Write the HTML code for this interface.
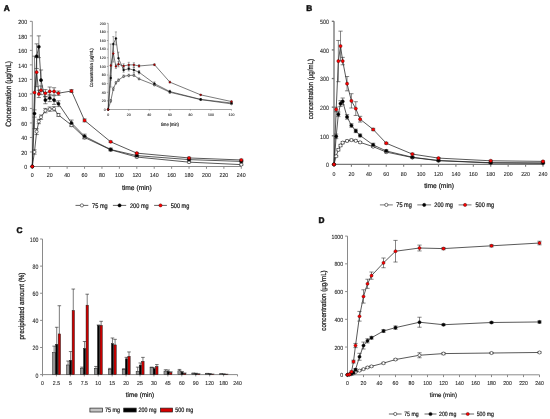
<!DOCTYPE html>
<html><head><meta charset="utf-8"><style>
html,body{margin:0;padding:0;background:#fff;}
body{width:550px;height:419px;overflow:hidden;}
svg{display:block;font-family:"Liberation Sans", sans-serif;will-change:transform;text-rendering:geometricPrecision;}
</style></head><body>
<svg width="550" height="419" viewBox="0 0 550 419">
<rect width="550" height="419" fill="#fff"/>
<text font-size="8.3" text-anchor="start" font-weight="bold" fill="#111" stroke="#111" stroke-width="0.5" transform="translate(3.8 11.3) scale(1 1.0)">A</text>
<line x1="32.3" y1="166.9" x2="32.3" y2="21.34" stroke="#8a8a8a" stroke-width="1.0"/>
<line x1="29.9" y1="166.5" x2="32.3" y2="166.5" stroke="#8a8a8a" stroke-width="1.0"/>
<text font-size="5.3" text-anchor="end" font-weight="normal" fill="#222" stroke="#222" stroke-width="0.08" transform="translate(27.1 169.19) scale(1 1.15)">0</text>
<line x1="29.9" y1="151.98" x2="32.3" y2="151.98" stroke="#8a8a8a" stroke-width="1.0"/>
<text font-size="5.3" text-anchor="end" font-weight="normal" fill="#222" stroke="#222" stroke-width="0.08" transform="translate(27.1 154.68) scale(1 1.15)">20</text>
<line x1="29.9" y1="137.47" x2="32.3" y2="137.47" stroke="#8a8a8a" stroke-width="1.0"/>
<text font-size="5.3" text-anchor="end" font-weight="normal" fill="#222" stroke="#222" stroke-width="0.08" transform="translate(27.1 140.16) scale(1 1.15)">40</text>
<line x1="29.9" y1="122.95" x2="32.3" y2="122.95" stroke="#8a8a8a" stroke-width="1.0"/>
<text font-size="5.3" text-anchor="end" font-weight="normal" fill="#222" stroke="#222" stroke-width="0.08" transform="translate(27.1 125.65) scale(1 1.15)">60</text>
<line x1="29.9" y1="108.44" x2="32.3" y2="108.44" stroke="#8a8a8a" stroke-width="1.0"/>
<text font-size="5.3" text-anchor="end" font-weight="normal" fill="#222" stroke="#222" stroke-width="0.08" transform="translate(27.1 111.13) scale(1 1.15)">80</text>
<line x1="29.9" y1="93.92" x2="32.3" y2="93.92" stroke="#8a8a8a" stroke-width="1.0"/>
<text font-size="5.3" text-anchor="end" font-weight="normal" fill="#222" stroke="#222" stroke-width="0.08" transform="translate(27.1 96.61) scale(1 1.15)">100</text>
<line x1="29.9" y1="79.4" x2="32.3" y2="79.4" stroke="#8a8a8a" stroke-width="1.0"/>
<text font-size="5.3" text-anchor="end" font-weight="normal" fill="#222" stroke="#222" stroke-width="0.08" transform="translate(27.1 82.1) scale(1 1.15)">120</text>
<line x1="29.9" y1="64.89" x2="32.3" y2="64.89" stroke="#8a8a8a" stroke-width="1.0"/>
<text font-size="5.3" text-anchor="end" font-weight="normal" fill="#222" stroke="#222" stroke-width="0.08" transform="translate(27.1 67.58) scale(1 1.15)">140</text>
<line x1="29.9" y1="50.37" x2="32.3" y2="50.37" stroke="#8a8a8a" stroke-width="1.0"/>
<text font-size="5.3" text-anchor="end" font-weight="normal" fill="#222" stroke="#222" stroke-width="0.08" transform="translate(27.1 53.07) scale(1 1.15)">160</text>
<line x1="29.9" y1="35.86" x2="32.3" y2="35.86" stroke="#8a8a8a" stroke-width="1.0"/>
<text font-size="5.3" text-anchor="end" font-weight="normal" fill="#222" stroke="#222" stroke-width="0.08" transform="translate(27.1 38.55) scale(1 1.15)">180</text>
<line x1="29.9" y1="21.34" x2="32.3" y2="21.34" stroke="#8a8a8a" stroke-width="1.0"/>
<text font-size="5.3" text-anchor="end" font-weight="normal" fill="#222" stroke="#222" stroke-width="0.08" transform="translate(27.1 24.03) scale(1 1.15)">200</text>
<line x1="32.3" y1="166.5" x2="241.29" y2="166.5" stroke="#8a8a8a" stroke-width="1.0"/>
<line x1="32.3" y1="166.5" x2="32.3" y2="168.8" stroke="#8a8a8a" stroke-width="1.0"/>
<text font-size="5.3" text-anchor="middle" font-weight="normal" fill="#222" stroke="#222" stroke-width="0.08" transform="translate(32.3 177) scale(1 1.08)">0</text>
<line x1="49.72" y1="166.5" x2="49.72" y2="168.8" stroke="#8a8a8a" stroke-width="1.0"/>
<text font-size="5.3" text-anchor="middle" font-weight="normal" fill="#222" stroke="#222" stroke-width="0.08" transform="translate(49.72 177) scale(1 1.08)">20</text>
<line x1="67.13" y1="166.5" x2="67.13" y2="168.8" stroke="#8a8a8a" stroke-width="1.0"/>
<text font-size="5.3" text-anchor="middle" font-weight="normal" fill="#222" stroke="#222" stroke-width="0.08" transform="translate(67.13 177) scale(1 1.08)">40</text>
<line x1="84.55" y1="166.5" x2="84.55" y2="168.8" stroke="#8a8a8a" stroke-width="1.0"/>
<text font-size="5.3" text-anchor="middle" font-weight="normal" fill="#222" stroke="#222" stroke-width="0.08" transform="translate(84.55 177) scale(1 1.08)">60</text>
<line x1="101.96" y1="166.5" x2="101.96" y2="168.8" stroke="#8a8a8a" stroke-width="1.0"/>
<text font-size="5.3" text-anchor="middle" font-weight="normal" fill="#222" stroke="#222" stroke-width="0.08" transform="translate(101.96 177) scale(1 1.08)">80</text>
<line x1="119.38" y1="166.5" x2="119.38" y2="168.8" stroke="#8a8a8a" stroke-width="1.0"/>
<text font-size="5.3" text-anchor="middle" font-weight="normal" fill="#222" stroke="#222" stroke-width="0.08" transform="translate(119.38 177) scale(1 1.08)">100</text>
<line x1="136.8" y1="166.5" x2="136.8" y2="168.8" stroke="#8a8a8a" stroke-width="1.0"/>
<text font-size="5.3" text-anchor="middle" font-weight="normal" fill="#222" stroke="#222" stroke-width="0.08" transform="translate(136.8 177) scale(1 1.08)">120</text>
<line x1="154.21" y1="166.5" x2="154.21" y2="168.8" stroke="#8a8a8a" stroke-width="1.0"/>
<text font-size="5.3" text-anchor="middle" font-weight="normal" fill="#222" stroke="#222" stroke-width="0.08" transform="translate(154.21 177) scale(1 1.08)">140</text>
<line x1="171.63" y1="166.5" x2="171.63" y2="168.8" stroke="#8a8a8a" stroke-width="1.0"/>
<text font-size="5.3" text-anchor="middle" font-weight="normal" fill="#222" stroke="#222" stroke-width="0.08" transform="translate(171.63 177) scale(1 1.08)">160</text>
<line x1="189.04" y1="166.5" x2="189.04" y2="168.8" stroke="#8a8a8a" stroke-width="1.0"/>
<text font-size="5.3" text-anchor="middle" font-weight="normal" fill="#222" stroke="#222" stroke-width="0.08" transform="translate(189.04 177) scale(1 1.08)">180</text>
<line x1="206.46" y1="166.5" x2="206.46" y2="168.8" stroke="#8a8a8a" stroke-width="1.0"/>
<text font-size="5.3" text-anchor="middle" font-weight="normal" fill="#222" stroke="#222" stroke-width="0.08" transform="translate(206.46 177) scale(1 1.08)">200</text>
<line x1="223.88" y1="166.5" x2="223.88" y2="168.8" stroke="#8a8a8a" stroke-width="1.0"/>
<text font-size="5.3" text-anchor="middle" font-weight="normal" fill="#222" stroke="#222" stroke-width="0.08" transform="translate(223.88 177) scale(1 1.08)">220</text>
<line x1="241.29" y1="166.5" x2="241.29" y2="168.8" stroke="#8a8a8a" stroke-width="1.0"/>
<text font-size="5.3" text-anchor="middle" font-weight="normal" fill="#222" stroke="#222" stroke-width="0.08" transform="translate(241.29 177) scale(1 1.08)">240</text>
<polyline points="32.3,166.5 34.48,151.98 36.65,131.66 38.83,121.5 41.01,117.15 45.36,110.61 49.72,109.16 54.07,108.8 58.42,114.97 71.49,125.13 84.55,137.47 110.67,149.81 136.8,157.06 189.04,162.15 241.29,164.61" fill="none" stroke="#222" stroke-width="0.75" stroke-linejoin="round"/>
<polyline points="32.3,166.5 34.48,113.52 36.65,56.18 38.83,46.74 41.01,80.13 45.36,100.09 49.72,97.98 54.07,100.09 58.42,103.72 71.49,122.95 84.55,136.31 110.67,149.52 136.8,155.61 189.04,159.6 241.29,161.42" fill="none" stroke="#222" stroke-width="0.75" stroke-linejoin="round"/>
<polyline points="32.3,166.5 34.48,92.47 36.65,72.15 38.83,93.92 41.01,90.29 45.36,93.19 49.72,91.38 54.07,91.38 58.42,93.19 71.49,91.02 84.55,120.41 110.67,141.82 136.8,153.15 189.04,157.94 241.29,159.97" fill="none" stroke="#222" stroke-width="0.75" stroke-linejoin="round"/>
<line x1="34.48" y1="149.81" x2="34.48" y2="154.16" stroke="#333" stroke-width="0.6"/>
<line x1="32.38" y1="149.81" x2="36.58" y2="149.81" stroke="#333" stroke-width="0.6"/>
<line x1="32.38" y1="154.16" x2="36.58" y2="154.16" stroke="#333" stroke-width="0.6"/>
<line x1="36.65" y1="128.76" x2="36.65" y2="134.56" stroke="#333" stroke-width="0.6"/>
<line x1="34.55" y1="128.76" x2="38.75" y2="128.76" stroke="#333" stroke-width="0.6"/>
<line x1="34.55" y1="134.56" x2="38.75" y2="134.56" stroke="#333" stroke-width="0.6"/>
<line x1="38.83" y1="119.32" x2="38.83" y2="123.68" stroke="#333" stroke-width="0.6"/>
<line x1="36.73" y1="119.32" x2="40.93" y2="119.32" stroke="#333" stroke-width="0.6"/>
<line x1="36.73" y1="123.68" x2="40.93" y2="123.68" stroke="#333" stroke-width="0.6"/>
<line x1="41.01" y1="114.97" x2="41.01" y2="119.32" stroke="#333" stroke-width="0.6"/>
<line x1="38.91" y1="114.97" x2="43.11" y2="114.97" stroke="#333" stroke-width="0.6"/>
<line x1="38.91" y1="119.32" x2="43.11" y2="119.32" stroke="#333" stroke-width="0.6"/>
<line x1="45.36" y1="108.44" x2="45.36" y2="112.79" stroke="#333" stroke-width="0.6"/>
<line x1="43.26" y1="108.44" x2="47.46" y2="108.44" stroke="#333" stroke-width="0.6"/>
<line x1="43.26" y1="112.79" x2="47.46" y2="112.79" stroke="#333" stroke-width="0.6"/>
<line x1="49.72" y1="106.98" x2="49.72" y2="111.34" stroke="#333" stroke-width="0.6"/>
<line x1="47.62" y1="106.98" x2="51.82" y2="106.98" stroke="#333" stroke-width="0.6"/>
<line x1="47.62" y1="111.34" x2="51.82" y2="111.34" stroke="#333" stroke-width="0.6"/>
<line x1="54.07" y1="106.62" x2="54.07" y2="110.98" stroke="#333" stroke-width="0.6"/>
<line x1="51.97" y1="106.62" x2="56.17" y2="106.62" stroke="#333" stroke-width="0.6"/>
<line x1="51.97" y1="110.98" x2="56.17" y2="110.98" stroke="#333" stroke-width="0.6"/>
<line x1="58.42" y1="113.52" x2="58.42" y2="116.42" stroke="#333" stroke-width="0.6"/>
<line x1="56.32" y1="113.52" x2="60.52" y2="113.52" stroke="#333" stroke-width="0.6"/>
<line x1="56.32" y1="116.42" x2="60.52" y2="116.42" stroke="#333" stroke-width="0.6"/>
<line x1="71.49" y1="123.68" x2="71.49" y2="126.58" stroke="#333" stroke-width="0.6"/>
<line x1="69.39" y1="123.68" x2="73.59" y2="123.68" stroke="#333" stroke-width="0.6"/>
<line x1="69.39" y1="126.58" x2="73.59" y2="126.58" stroke="#333" stroke-width="0.6"/>
<line x1="84.55" y1="136.02" x2="84.55" y2="138.92" stroke="#333" stroke-width="0.6"/>
<line x1="82.45" y1="136.02" x2="86.65" y2="136.02" stroke="#333" stroke-width="0.6"/>
<line x1="82.45" y1="138.92" x2="86.65" y2="138.92" stroke="#333" stroke-width="0.6"/>
<line x1="110.67" y1="149.08" x2="110.67" y2="150.53" stroke="#333" stroke-width="0.6"/>
<line x1="108.57" y1="149.08" x2="112.77" y2="149.08" stroke="#333" stroke-width="0.6"/>
<line x1="108.57" y1="150.53" x2="112.77" y2="150.53" stroke="#333" stroke-width="0.6"/>
<line x1="136.8" y1="156.34" x2="136.8" y2="157.79" stroke="#333" stroke-width="0.6"/>
<line x1="134.7" y1="156.34" x2="138.9" y2="156.34" stroke="#333" stroke-width="0.6"/>
<line x1="134.7" y1="157.79" x2="138.9" y2="157.79" stroke="#333" stroke-width="0.6"/>
<line x1="189.04" y1="161.42" x2="189.04" y2="162.87" stroke="#333" stroke-width="0.6"/>
<line x1="186.94" y1="161.42" x2="191.14" y2="161.42" stroke="#333" stroke-width="0.6"/>
<line x1="186.94" y1="162.87" x2="191.14" y2="162.87" stroke="#333" stroke-width="0.6"/>
<line x1="241.29" y1="163.89" x2="241.29" y2="165.34" stroke="#333" stroke-width="0.6"/>
<line x1="239.19" y1="163.89" x2="243.39" y2="163.89" stroke="#333" stroke-width="0.6"/>
<line x1="239.19" y1="165.34" x2="243.39" y2="165.34" stroke="#333" stroke-width="0.6"/>
<line x1="34.48" y1="109.89" x2="34.48" y2="117.15" stroke="#333" stroke-width="0.6"/>
<line x1="32.38" y1="109.89" x2="36.58" y2="109.89" stroke="#333" stroke-width="0.6"/>
<line x1="32.38" y1="117.15" x2="36.58" y2="117.15" stroke="#333" stroke-width="0.6"/>
<line x1="36.65" y1="43.84" x2="36.65" y2="68.52" stroke="#333" stroke-width="0.6"/>
<line x1="34.55" y1="43.84" x2="38.75" y2="43.84" stroke="#333" stroke-width="0.6"/>
<line x1="34.55" y1="68.52" x2="38.75" y2="68.52" stroke="#333" stroke-width="0.6"/>
<line x1="38.83" y1="35.86" x2="38.83" y2="57.63" stroke="#333" stroke-width="0.6"/>
<line x1="36.73" y1="35.86" x2="40.93" y2="35.86" stroke="#333" stroke-width="0.6"/>
<line x1="36.73" y1="57.63" x2="40.93" y2="57.63" stroke="#333" stroke-width="0.6"/>
<line x1="41.01" y1="69.97" x2="41.01" y2="90.29" stroke="#333" stroke-width="0.6"/>
<line x1="38.91" y1="69.97" x2="43.11" y2="69.97" stroke="#333" stroke-width="0.6"/>
<line x1="38.91" y1="90.29" x2="43.11" y2="90.29" stroke="#333" stroke-width="0.6"/>
<line x1="45.36" y1="96.46" x2="45.36" y2="103.72" stroke="#333" stroke-width="0.6"/>
<line x1="43.26" y1="96.46" x2="47.46" y2="96.46" stroke="#333" stroke-width="0.6"/>
<line x1="43.26" y1="103.72" x2="47.46" y2="103.72" stroke="#333" stroke-width="0.6"/>
<line x1="49.72" y1="94.36" x2="49.72" y2="101.61" stroke="#333" stroke-width="0.6"/>
<line x1="47.62" y1="94.36" x2="51.82" y2="94.36" stroke="#333" stroke-width="0.6"/>
<line x1="47.62" y1="101.61" x2="51.82" y2="101.61" stroke="#333" stroke-width="0.6"/>
<line x1="54.07" y1="95.73" x2="54.07" y2="104.44" stroke="#333" stroke-width="0.6"/>
<line x1="51.97" y1="95.73" x2="56.17" y2="95.73" stroke="#333" stroke-width="0.6"/>
<line x1="51.97" y1="104.44" x2="56.17" y2="104.44" stroke="#333" stroke-width="0.6"/>
<line x1="58.42" y1="100.82" x2="58.42" y2="106.62" stroke="#333" stroke-width="0.6"/>
<line x1="56.32" y1="100.82" x2="60.52" y2="100.82" stroke="#333" stroke-width="0.6"/>
<line x1="56.32" y1="106.62" x2="60.52" y2="106.62" stroke="#333" stroke-width="0.6"/>
<line x1="71.49" y1="120.05" x2="71.49" y2="125.86" stroke="#333" stroke-width="0.6"/>
<line x1="69.39" y1="120.05" x2="73.59" y2="120.05" stroke="#333" stroke-width="0.6"/>
<line x1="69.39" y1="125.86" x2="73.59" y2="125.86" stroke="#333" stroke-width="0.6"/>
<line x1="84.55" y1="134.13" x2="84.55" y2="138.48" stroke="#333" stroke-width="0.6"/>
<line x1="82.45" y1="134.13" x2="86.65" y2="134.13" stroke="#333" stroke-width="0.6"/>
<line x1="82.45" y1="138.48" x2="86.65" y2="138.48" stroke="#333" stroke-width="0.6"/>
<line x1="110.67" y1="148.06" x2="110.67" y2="150.97" stroke="#333" stroke-width="0.6"/>
<line x1="108.57" y1="148.06" x2="112.77" y2="148.06" stroke="#333" stroke-width="0.6"/>
<line x1="108.57" y1="150.97" x2="112.77" y2="150.97" stroke="#333" stroke-width="0.6"/>
<line x1="136.8" y1="154.89" x2="136.8" y2="156.34" stroke="#333" stroke-width="0.6"/>
<line x1="134.7" y1="154.89" x2="138.9" y2="154.89" stroke="#333" stroke-width="0.6"/>
<line x1="134.7" y1="156.34" x2="138.9" y2="156.34" stroke="#333" stroke-width="0.6"/>
<line x1="189.04" y1="158.88" x2="189.04" y2="160.33" stroke="#333" stroke-width="0.6"/>
<line x1="186.94" y1="158.88" x2="191.14" y2="158.88" stroke="#333" stroke-width="0.6"/>
<line x1="186.94" y1="160.33" x2="191.14" y2="160.33" stroke="#333" stroke-width="0.6"/>
<line x1="241.29" y1="160.69" x2="241.29" y2="162.15" stroke="#333" stroke-width="0.6"/>
<line x1="239.19" y1="160.69" x2="243.39" y2="160.69" stroke="#333" stroke-width="0.6"/>
<line x1="239.19" y1="162.15" x2="243.39" y2="162.15" stroke="#333" stroke-width="0.6"/>
<line x1="34.48" y1="56.18" x2="34.48" y2="128.76" stroke="#333" stroke-width="0.6"/>
<line x1="32.38" y1="56.18" x2="36.58" y2="56.18" stroke="#333" stroke-width="0.6"/>
<line x1="32.38" y1="128.76" x2="36.58" y2="128.76" stroke="#333" stroke-width="0.6"/>
<line x1="36.65" y1="57.63" x2="36.65" y2="86.66" stroke="#333" stroke-width="0.6"/>
<line x1="34.55" y1="57.63" x2="38.75" y2="57.63" stroke="#333" stroke-width="0.6"/>
<line x1="34.55" y1="86.66" x2="38.75" y2="86.66" stroke="#333" stroke-width="0.6"/>
<line x1="38.83" y1="90.29" x2="38.83" y2="97.55" stroke="#333" stroke-width="0.6"/>
<line x1="36.73" y1="90.29" x2="40.93" y2="90.29" stroke="#333" stroke-width="0.6"/>
<line x1="36.73" y1="97.55" x2="40.93" y2="97.55" stroke="#333" stroke-width="0.6"/>
<line x1="41.01" y1="85.94" x2="41.01" y2="94.65" stroke="#333" stroke-width="0.6"/>
<line x1="38.91" y1="85.94" x2="43.11" y2="85.94" stroke="#333" stroke-width="0.6"/>
<line x1="38.91" y1="94.65" x2="43.11" y2="94.65" stroke="#333" stroke-width="0.6"/>
<line x1="45.36" y1="89.57" x2="45.36" y2="96.82" stroke="#333" stroke-width="0.6"/>
<line x1="43.26" y1="89.57" x2="47.46" y2="89.57" stroke="#333" stroke-width="0.6"/>
<line x1="43.26" y1="96.82" x2="47.46" y2="96.82" stroke="#333" stroke-width="0.6"/>
<line x1="49.72" y1="87.02" x2="49.72" y2="95.73" stroke="#333" stroke-width="0.6"/>
<line x1="47.62" y1="87.02" x2="51.82" y2="87.02" stroke="#333" stroke-width="0.6"/>
<line x1="47.62" y1="95.73" x2="51.82" y2="95.73" stroke="#333" stroke-width="0.6"/>
<line x1="54.07" y1="87.75" x2="54.07" y2="95.01" stroke="#333" stroke-width="0.6"/>
<line x1="51.97" y1="87.75" x2="56.17" y2="87.75" stroke="#333" stroke-width="0.6"/>
<line x1="51.97" y1="95.01" x2="56.17" y2="95.01" stroke="#333" stroke-width="0.6"/>
<line x1="58.42" y1="91.02" x2="58.42" y2="95.37" stroke="#333" stroke-width="0.6"/>
<line x1="56.32" y1="91.02" x2="60.52" y2="91.02" stroke="#333" stroke-width="0.6"/>
<line x1="56.32" y1="95.37" x2="60.52" y2="95.37" stroke="#333" stroke-width="0.6"/>
<line x1="71.49" y1="89.57" x2="71.49" y2="92.47" stroke="#333" stroke-width="0.6"/>
<line x1="69.39" y1="89.57" x2="73.59" y2="89.57" stroke="#333" stroke-width="0.6"/>
<line x1="69.39" y1="92.47" x2="73.59" y2="92.47" stroke="#333" stroke-width="0.6"/>
<line x1="84.55" y1="118.96" x2="84.55" y2="121.86" stroke="#333" stroke-width="0.6"/>
<line x1="82.45" y1="118.96" x2="86.65" y2="118.96" stroke="#333" stroke-width="0.6"/>
<line x1="82.45" y1="121.86" x2="86.65" y2="121.86" stroke="#333" stroke-width="0.6"/>
<line x1="110.67" y1="141.1" x2="110.67" y2="142.55" stroke="#333" stroke-width="0.6"/>
<line x1="108.57" y1="141.1" x2="112.77" y2="141.1" stroke="#333" stroke-width="0.6"/>
<line x1="108.57" y1="142.55" x2="112.77" y2="142.55" stroke="#333" stroke-width="0.6"/>
<line x1="136.8" y1="152.42" x2="136.8" y2="153.87" stroke="#333" stroke-width="0.6"/>
<line x1="134.7" y1="152.42" x2="138.9" y2="152.42" stroke="#333" stroke-width="0.6"/>
<line x1="134.7" y1="153.87" x2="138.9" y2="153.87" stroke="#333" stroke-width="0.6"/>
<line x1="189.04" y1="157.21" x2="189.04" y2="158.66" stroke="#333" stroke-width="0.6"/>
<line x1="186.94" y1="157.21" x2="191.14" y2="157.21" stroke="#333" stroke-width="0.6"/>
<line x1="186.94" y1="158.66" x2="191.14" y2="158.66" stroke="#333" stroke-width="0.6"/>
<line x1="241.29" y1="159.24" x2="241.29" y2="160.69" stroke="#333" stroke-width="0.6"/>
<line x1="239.19" y1="159.24" x2="243.39" y2="159.24" stroke="#333" stroke-width="0.6"/>
<line x1="239.19" y1="160.69" x2="243.39" y2="160.69" stroke="#333" stroke-width="0.6"/>
<circle cx="32.3" cy="166.5" r="1.55" fill="#fff" stroke="#111" stroke-width="0.55"/>
<circle cx="34.48" cy="151.98" r="1.55" fill="#fff" stroke="#111" stroke-width="0.55"/>
<circle cx="36.65" cy="131.66" r="1.55" fill="#fff" stroke="#111" stroke-width="0.55"/>
<circle cx="38.83" cy="121.5" r="1.55" fill="#fff" stroke="#111" stroke-width="0.55"/>
<circle cx="41.01" cy="117.15" r="1.55" fill="#fff" stroke="#111" stroke-width="0.55"/>
<circle cx="45.36" cy="110.61" r="1.55" fill="#fff" stroke="#111" stroke-width="0.55"/>
<circle cx="49.72" cy="109.16" r="1.55" fill="#fff" stroke="#111" stroke-width="0.55"/>
<circle cx="54.07" cy="108.8" r="1.55" fill="#fff" stroke="#111" stroke-width="0.55"/>
<circle cx="58.42" cy="114.97" r="1.55" fill="#fff" stroke="#111" stroke-width="0.55"/>
<circle cx="71.49" cy="125.13" r="1.55" fill="#fff" stroke="#111" stroke-width="0.55"/>
<circle cx="84.55" cy="137.47" r="1.55" fill="#fff" stroke="#111" stroke-width="0.55"/>
<circle cx="110.67" cy="149.81" r="1.55" fill="#fff" stroke="#111" stroke-width="0.55"/>
<circle cx="136.8" cy="157.06" r="1.55" fill="#fff" stroke="#111" stroke-width="0.55"/>
<circle cx="189.04" cy="162.15" r="1.55" fill="#fff" stroke="#111" stroke-width="0.55"/>
<circle cx="241.29" cy="164.61" r="1.55" fill="#fff" stroke="#111" stroke-width="0.55"/>
<circle cx="32.3" cy="166.5" r="1.55" fill="#000" stroke="#111" stroke-width="0.55"/>
<circle cx="34.48" cy="113.52" r="1.55" fill="#000" stroke="#111" stroke-width="0.55"/>
<circle cx="36.65" cy="56.18" r="1.55" fill="#000" stroke="#111" stroke-width="0.55"/>
<circle cx="38.83" cy="46.74" r="1.55" fill="#000" stroke="#111" stroke-width="0.55"/>
<circle cx="41.01" cy="80.13" r="1.55" fill="#000" stroke="#111" stroke-width="0.55"/>
<circle cx="45.36" cy="100.09" r="1.55" fill="#000" stroke="#111" stroke-width="0.55"/>
<circle cx="49.72" cy="97.98" r="1.55" fill="#000" stroke="#111" stroke-width="0.55"/>
<circle cx="54.07" cy="100.09" r="1.55" fill="#000" stroke="#111" stroke-width="0.55"/>
<circle cx="58.42" cy="103.72" r="1.55" fill="#000" stroke="#111" stroke-width="0.55"/>
<circle cx="71.49" cy="122.95" r="1.55" fill="#000" stroke="#111" stroke-width="0.55"/>
<circle cx="84.55" cy="136.31" r="1.55" fill="#000" stroke="#111" stroke-width="0.55"/>
<circle cx="110.67" cy="149.52" r="1.55" fill="#000" stroke="#111" stroke-width="0.55"/>
<circle cx="136.8" cy="155.61" r="1.55" fill="#000" stroke="#111" stroke-width="0.55"/>
<circle cx="189.04" cy="159.6" r="1.55" fill="#000" stroke="#111" stroke-width="0.55"/>
<circle cx="241.29" cy="161.42" r="1.55" fill="#000" stroke="#111" stroke-width="0.55"/>
<circle cx="32.3" cy="166.5" r="1.55" fill="#ff0000" stroke="#3a0000" stroke-width="0.41250000000000003"/>
<circle cx="34.48" cy="92.47" r="1.55" fill="#ff0000" stroke="#3a0000" stroke-width="0.41250000000000003"/>
<circle cx="36.65" cy="72.15" r="1.55" fill="#ff0000" stroke="#3a0000" stroke-width="0.41250000000000003"/>
<circle cx="38.83" cy="93.92" r="1.55" fill="#ff0000" stroke="#3a0000" stroke-width="0.41250000000000003"/>
<circle cx="41.01" cy="90.29" r="1.55" fill="#ff0000" stroke="#3a0000" stroke-width="0.41250000000000003"/>
<circle cx="45.36" cy="93.19" r="1.55" fill="#ff0000" stroke="#3a0000" stroke-width="0.41250000000000003"/>
<circle cx="49.72" cy="91.38" r="1.55" fill="#ff0000" stroke="#3a0000" stroke-width="0.41250000000000003"/>
<circle cx="54.07" cy="91.38" r="1.55" fill="#ff0000" stroke="#3a0000" stroke-width="0.41250000000000003"/>
<circle cx="58.42" cy="93.19" r="1.55" fill="#ff0000" stroke="#3a0000" stroke-width="0.41250000000000003"/>
<circle cx="71.49" cy="91.02" r="1.55" fill="#ff0000" stroke="#3a0000" stroke-width="0.41250000000000003"/>
<circle cx="84.55" cy="120.41" r="1.55" fill="#ff0000" stroke="#3a0000" stroke-width="0.41250000000000003"/>
<circle cx="110.67" cy="141.82" r="1.55" fill="#ff0000" stroke="#3a0000" stroke-width="0.41250000000000003"/>
<circle cx="136.8" cy="153.15" r="1.55" fill="#ff0000" stroke="#3a0000" stroke-width="0.41250000000000003"/>
<circle cx="189.04" cy="157.94" r="1.55" fill="#ff0000" stroke="#3a0000" stroke-width="0.41250000000000003"/>
<circle cx="241.29" cy="159.97" r="1.55" fill="#ff0000" stroke="#3a0000" stroke-width="0.41250000000000003"/>
<text font-size="6.6" text-anchor="middle" font-weight="normal" fill="#222" stroke="#222" stroke-width="0.23" transform="translate(11.3 93.8) rotate(-90) scale(1 1.18)">Concentration (µg/mL)</text>
<text font-size="6.7" text-anchor="middle" font-weight="normal" fill="#222" stroke="#222" stroke-width="0.23" transform="translate(136.8 190) scale(1 1.03)">time (min)</text>
<line x1="75.5" y1="205.4" x2="88.3" y2="205.4" stroke="#222" stroke-width="0.7"/>
<circle cx="81.9" cy="205.4" r="1.6" fill="#fff" stroke="#111" stroke-width="0.55"/>
<text font-size="5.6" text-anchor="start" font-weight="normal" fill="#222" stroke="#222" stroke-width="0.2" transform="translate(92.1 207.78) scale(1 1.18)">75 mg</text>
<line x1="112.9" y1="205.4" x2="126.2" y2="205.4" stroke="#222" stroke-width="0.7"/>
<circle cx="119.55" cy="205.4" r="1.6" fill="#000" stroke="#111" stroke-width="0.55"/>
<text font-size="5.6" text-anchor="start" font-weight="normal" fill="#222" stroke="#222" stroke-width="0.2" transform="translate(130 207.78) scale(1 1.18)">200 mg</text>
<line x1="154.1" y1="205.4" x2="166.9" y2="205.4" stroke="#222" stroke-width="0.7"/>
<circle cx="160.5" cy="205.4" r="1.6" fill="#ff0000" stroke="#3a0000" stroke-width="0.41250000000000003"/>
<text font-size="5.6" text-anchor="start" font-weight="normal" fill="#222" stroke="#222" stroke-width="0.2" transform="translate(170.7 207.78) scale(1 1.18)">500 mg</text>
<line x1="108.2" y1="109.9" x2="108.2" y2="23.3" stroke="#666" stroke-width="0.6"/>
<line x1="106.9" y1="109.5" x2="108.2" y2="109.5" stroke="#666" stroke-width="0.6"/>
<text font-size="3.5" text-anchor="end" font-weight="normal" fill="#222" stroke="#222" stroke-width="0.1" transform="translate(105.7 110.76) scale(1 1.0)">0</text>
<line x1="106.9" y1="100.88" x2="108.2" y2="100.88" stroke="#666" stroke-width="0.6"/>
<text font-size="3.5" text-anchor="end" font-weight="normal" fill="#222" stroke="#222" stroke-width="0.1" transform="translate(105.7 102.14) scale(1 1.0)">20</text>
<line x1="106.9" y1="92.26" x2="108.2" y2="92.26" stroke="#666" stroke-width="0.6"/>
<text font-size="3.5" text-anchor="end" font-weight="normal" fill="#222" stroke="#222" stroke-width="0.1" transform="translate(105.7 93.52) scale(1 1.0)">40</text>
<line x1="106.9" y1="83.64" x2="108.2" y2="83.64" stroke="#666" stroke-width="0.6"/>
<text font-size="3.5" text-anchor="end" font-weight="normal" fill="#222" stroke="#222" stroke-width="0.1" transform="translate(105.7 84.9) scale(1 1.0)">60</text>
<line x1="106.9" y1="75.02" x2="108.2" y2="75.02" stroke="#666" stroke-width="0.6"/>
<text font-size="3.5" text-anchor="end" font-weight="normal" fill="#222" stroke="#222" stroke-width="0.1" transform="translate(105.7 76.28) scale(1 1.0)">80</text>
<line x1="106.9" y1="66.4" x2="108.2" y2="66.4" stroke="#666" stroke-width="0.6"/>
<text font-size="3.5" text-anchor="end" font-weight="normal" fill="#222" stroke="#222" stroke-width="0.1" transform="translate(105.7 67.66) scale(1 1.0)">100</text>
<line x1="106.9" y1="57.78" x2="108.2" y2="57.78" stroke="#666" stroke-width="0.6"/>
<text font-size="3.5" text-anchor="end" font-weight="normal" fill="#222" stroke="#222" stroke-width="0.1" transform="translate(105.7 59.04) scale(1 1.0)">120</text>
<line x1="106.9" y1="49.16" x2="108.2" y2="49.16" stroke="#666" stroke-width="0.6"/>
<text font-size="3.5" text-anchor="end" font-weight="normal" fill="#222" stroke="#222" stroke-width="0.1" transform="translate(105.7 50.42) scale(1 1.0)">140</text>
<line x1="106.9" y1="40.54" x2="108.2" y2="40.54" stroke="#666" stroke-width="0.6"/>
<text font-size="3.5" text-anchor="end" font-weight="normal" fill="#222" stroke="#222" stroke-width="0.1" transform="translate(105.7 41.8) scale(1 1.0)">160</text>
<line x1="106.9" y1="31.92" x2="108.2" y2="31.92" stroke="#666" stroke-width="0.6"/>
<text font-size="3.5" text-anchor="end" font-weight="normal" fill="#222" stroke="#222" stroke-width="0.1" transform="translate(105.7 33.18) scale(1 1.0)">180</text>
<line x1="106.9" y1="23.3" x2="108.2" y2="23.3" stroke="#666" stroke-width="0.6"/>
<text font-size="3.5" text-anchor="end" font-weight="normal" fill="#222" stroke="#222" stroke-width="0.1" transform="translate(105.7 24.56) scale(1 1.0)">200</text>
<line x1="108.2" y1="109.5" x2="231.5" y2="109.5" stroke="#666" stroke-width="0.6"/>
<line x1="108.2" y1="109.5" x2="108.2" y2="110.5" stroke="#666" stroke-width="0.6"/>
<text font-size="3.5" text-anchor="middle" font-weight="normal" fill="#222" stroke="#222" stroke-width="0.1" transform="translate(108.2 115.8) scale(1 1.0)">0</text>
<line x1="128.75" y1="109.5" x2="128.75" y2="110.5" stroke="#666" stroke-width="0.6"/>
<text font-size="3.5" text-anchor="middle" font-weight="normal" fill="#222" stroke="#222" stroke-width="0.1" transform="translate(128.75 115.8) scale(1 1.0)">20</text>
<line x1="149.3" y1="109.5" x2="149.3" y2="110.5" stroke="#666" stroke-width="0.6"/>
<text font-size="3.5" text-anchor="middle" font-weight="normal" fill="#222" stroke="#222" stroke-width="0.1" transform="translate(149.3 115.8) scale(1 1.0)">40</text>
<line x1="169.85" y1="109.5" x2="169.85" y2="110.5" stroke="#666" stroke-width="0.6"/>
<text font-size="3.5" text-anchor="middle" font-weight="normal" fill="#222" stroke="#222" stroke-width="0.1" transform="translate(169.85 115.8) scale(1 1.0)">60</text>
<line x1="190.4" y1="109.5" x2="190.4" y2="110.5" stroke="#666" stroke-width="0.6"/>
<text font-size="3.5" text-anchor="middle" font-weight="normal" fill="#222" stroke="#222" stroke-width="0.1" transform="translate(190.4 115.8) scale(1 1.0)">80</text>
<line x1="210.95" y1="109.5" x2="210.95" y2="110.5" stroke="#666" stroke-width="0.6"/>
<text font-size="3.5" text-anchor="middle" font-weight="normal" fill="#222" stroke="#222" stroke-width="0.1" transform="translate(210.95 115.8) scale(1 1.0)">100</text>
<line x1="231.5" y1="109.5" x2="231.5" y2="110.5" stroke="#666" stroke-width="0.6"/>
<text font-size="3.5" text-anchor="middle" font-weight="normal" fill="#222" stroke="#222" stroke-width="0.1" transform="translate(231.5 115.8) scale(1 1.0)">120</text>
<polyline points="108.2,109.5 110.77,100.88 113.34,88.81 115.91,82.78 118.48,80.19 123.61,76.31 128.75,75.45 133.89,75.24 139.03,78.9 154.44,84.93 169.85,92.26 200.68,99.59 231.5,103.9" fill="none" stroke="#222" stroke-width="0.6" stroke-linejoin="round"/>
<polyline points="108.2,109.5 110.77,78.04 113.34,43.99 115.91,38.39 118.48,58.21 123.61,70.06 128.75,68.81 133.89,70.06 139.03,72.22 154.44,83.64 169.85,91.57 200.68,99.41 231.5,103.03" fill="none" stroke="#222" stroke-width="0.6" stroke-linejoin="round"/>
<polyline points="108.2,109.5 110.77,65.54 113.34,53.47 115.91,66.4 118.48,64.25 123.61,65.97 128.75,64.89 133.89,64.89 139.03,65.97 154.44,64.68 169.85,82.13 200.68,94.85 231.5,101.57" fill="none" stroke="#222" stroke-width="0.6" stroke-linejoin="round"/>
<line x1="110.77" y1="99.59" x2="110.77" y2="102.17" stroke="#333" stroke-width="0.4"/>
<line x1="109.67" y1="99.59" x2="111.87" y2="99.59" stroke="#333" stroke-width="0.4"/>
<line x1="109.67" y1="102.17" x2="111.87" y2="102.17" stroke="#333" stroke-width="0.4"/>
<line x1="113.34" y1="87.09" x2="113.34" y2="90.54" stroke="#333" stroke-width="0.4"/>
<line x1="112.24" y1="87.09" x2="114.44" y2="87.09" stroke="#333" stroke-width="0.4"/>
<line x1="112.24" y1="90.54" x2="114.44" y2="90.54" stroke="#333" stroke-width="0.4"/>
<line x1="115.91" y1="81.48" x2="115.91" y2="84.07" stroke="#333" stroke-width="0.4"/>
<line x1="114.81" y1="81.48" x2="117.01" y2="81.48" stroke="#333" stroke-width="0.4"/>
<line x1="114.81" y1="84.07" x2="117.01" y2="84.07" stroke="#333" stroke-width="0.4"/>
<line x1="118.48" y1="78.9" x2="118.48" y2="81.49" stroke="#333" stroke-width="0.4"/>
<line x1="117.38" y1="78.9" x2="119.58" y2="78.9" stroke="#333" stroke-width="0.4"/>
<line x1="117.38" y1="81.49" x2="119.58" y2="81.49" stroke="#333" stroke-width="0.4"/>
<line x1="123.61" y1="75.02" x2="123.61" y2="77.61" stroke="#333" stroke-width="0.4"/>
<line x1="122.51" y1="75.02" x2="124.71" y2="75.02" stroke="#333" stroke-width="0.4"/>
<line x1="122.51" y1="77.61" x2="124.71" y2="77.61" stroke="#333" stroke-width="0.4"/>
<line x1="128.75" y1="74.16" x2="128.75" y2="76.74" stroke="#333" stroke-width="0.4"/>
<line x1="127.65" y1="74.16" x2="129.85" y2="74.16" stroke="#333" stroke-width="0.4"/>
<line x1="127.65" y1="76.74" x2="129.85" y2="76.74" stroke="#333" stroke-width="0.4"/>
<line x1="133.89" y1="73.94" x2="133.89" y2="76.53" stroke="#333" stroke-width="0.4"/>
<line x1="132.79" y1="73.94" x2="134.99" y2="73.94" stroke="#333" stroke-width="0.4"/>
<line x1="132.79" y1="76.53" x2="134.99" y2="76.53" stroke="#333" stroke-width="0.4"/>
<line x1="139.03" y1="78.04" x2="139.03" y2="79.76" stroke="#333" stroke-width="0.4"/>
<line x1="137.93" y1="78.04" x2="140.12" y2="78.04" stroke="#333" stroke-width="0.4"/>
<line x1="137.93" y1="79.76" x2="140.12" y2="79.76" stroke="#333" stroke-width="0.4"/>
<line x1="154.44" y1="84.07" x2="154.44" y2="85.79" stroke="#333" stroke-width="0.4"/>
<line x1="153.34" y1="84.07" x2="155.54" y2="84.07" stroke="#333" stroke-width="0.4"/>
<line x1="153.34" y1="85.79" x2="155.54" y2="85.79" stroke="#333" stroke-width="0.4"/>
<line x1="169.85" y1="91.4" x2="169.85" y2="93.12" stroke="#333" stroke-width="0.4"/>
<line x1="168.75" y1="91.4" x2="170.95" y2="91.4" stroke="#333" stroke-width="0.4"/>
<line x1="168.75" y1="93.12" x2="170.95" y2="93.12" stroke="#333" stroke-width="0.4"/>
<line x1="200.68" y1="99.16" x2="200.68" y2="100.02" stroke="#333" stroke-width="0.4"/>
<line x1="199.58" y1="99.16" x2="201.78" y2="99.16" stroke="#333" stroke-width="0.4"/>
<line x1="199.58" y1="100.02" x2="201.78" y2="100.02" stroke="#333" stroke-width="0.4"/>
<line x1="231.5" y1="103.47" x2="231.5" y2="104.33" stroke="#333" stroke-width="0.4"/>
<line x1="230.4" y1="103.47" x2="232.6" y2="103.47" stroke="#333" stroke-width="0.4"/>
<line x1="230.4" y1="104.33" x2="232.6" y2="104.33" stroke="#333" stroke-width="0.4"/>
<line x1="110.77" y1="75.88" x2="110.77" y2="80.19" stroke="#333" stroke-width="0.4"/>
<line x1="109.67" y1="75.88" x2="111.87" y2="75.88" stroke="#333" stroke-width="0.4"/>
<line x1="109.67" y1="80.19" x2="111.87" y2="80.19" stroke="#333" stroke-width="0.4"/>
<line x1="113.34" y1="36.66" x2="113.34" y2="51.31" stroke="#333" stroke-width="0.4"/>
<line x1="112.24" y1="36.66" x2="114.44" y2="36.66" stroke="#333" stroke-width="0.4"/>
<line x1="112.24" y1="51.31" x2="114.44" y2="51.31" stroke="#333" stroke-width="0.4"/>
<line x1="115.91" y1="31.92" x2="115.91" y2="44.85" stroke="#333" stroke-width="0.4"/>
<line x1="114.81" y1="31.92" x2="117.01" y2="31.92" stroke="#333" stroke-width="0.4"/>
<line x1="114.81" y1="44.85" x2="117.01" y2="44.85" stroke="#333" stroke-width="0.4"/>
<line x1="118.48" y1="52.18" x2="118.48" y2="64.25" stroke="#333" stroke-width="0.4"/>
<line x1="117.38" y1="52.18" x2="119.58" y2="52.18" stroke="#333" stroke-width="0.4"/>
<line x1="117.38" y1="64.25" x2="119.58" y2="64.25" stroke="#333" stroke-width="0.4"/>
<line x1="123.61" y1="67.91" x2="123.61" y2="72.22" stroke="#333" stroke-width="0.4"/>
<line x1="122.51" y1="67.91" x2="124.71" y2="67.91" stroke="#333" stroke-width="0.4"/>
<line x1="122.51" y1="72.22" x2="124.71" y2="72.22" stroke="#333" stroke-width="0.4"/>
<line x1="128.75" y1="66.66" x2="128.75" y2="70.97" stroke="#333" stroke-width="0.4"/>
<line x1="127.65" y1="66.66" x2="129.85" y2="66.66" stroke="#333" stroke-width="0.4"/>
<line x1="127.65" y1="70.97" x2="129.85" y2="70.97" stroke="#333" stroke-width="0.4"/>
<line x1="133.89" y1="67.48" x2="133.89" y2="72.65" stroke="#333" stroke-width="0.4"/>
<line x1="132.79" y1="67.48" x2="134.99" y2="67.48" stroke="#333" stroke-width="0.4"/>
<line x1="132.79" y1="72.65" x2="134.99" y2="72.65" stroke="#333" stroke-width="0.4"/>
<line x1="139.03" y1="70.49" x2="139.03" y2="73.94" stroke="#333" stroke-width="0.4"/>
<line x1="137.93" y1="70.49" x2="140.12" y2="70.49" stroke="#333" stroke-width="0.4"/>
<line x1="137.93" y1="73.94" x2="140.12" y2="73.94" stroke="#333" stroke-width="0.4"/>
<line x1="154.44" y1="81.92" x2="154.44" y2="85.36" stroke="#333" stroke-width="0.4"/>
<line x1="153.34" y1="81.92" x2="155.54" y2="81.92" stroke="#333" stroke-width="0.4"/>
<line x1="153.34" y1="85.36" x2="155.54" y2="85.36" stroke="#333" stroke-width="0.4"/>
<line x1="169.85" y1="90.28" x2="169.85" y2="92.86" stroke="#333" stroke-width="0.4"/>
<line x1="168.75" y1="90.28" x2="170.95" y2="90.28" stroke="#333" stroke-width="0.4"/>
<line x1="168.75" y1="92.86" x2="170.95" y2="92.86" stroke="#333" stroke-width="0.4"/>
<line x1="200.68" y1="98.55" x2="200.68" y2="100.28" stroke="#333" stroke-width="0.4"/>
<line x1="199.58" y1="98.55" x2="201.78" y2="98.55" stroke="#333" stroke-width="0.4"/>
<line x1="199.58" y1="100.28" x2="201.78" y2="100.28" stroke="#333" stroke-width="0.4"/>
<line x1="231.5" y1="102.6" x2="231.5" y2="103.47" stroke="#333" stroke-width="0.4"/>
<line x1="230.4" y1="102.6" x2="232.6" y2="102.6" stroke="#333" stroke-width="0.4"/>
<line x1="230.4" y1="103.47" x2="232.6" y2="103.47" stroke="#333" stroke-width="0.4"/>
<line x1="110.77" y1="43.99" x2="110.77" y2="87.09" stroke="#333" stroke-width="0.4"/>
<line x1="109.67" y1="43.99" x2="111.87" y2="43.99" stroke="#333" stroke-width="0.4"/>
<line x1="109.67" y1="87.09" x2="111.87" y2="87.09" stroke="#333" stroke-width="0.4"/>
<line x1="113.34" y1="44.85" x2="113.34" y2="62.09" stroke="#333" stroke-width="0.4"/>
<line x1="112.24" y1="44.85" x2="114.44" y2="44.85" stroke="#333" stroke-width="0.4"/>
<line x1="112.24" y1="62.09" x2="114.44" y2="62.09" stroke="#333" stroke-width="0.4"/>
<line x1="115.91" y1="64.25" x2="115.91" y2="68.56" stroke="#333" stroke-width="0.4"/>
<line x1="114.81" y1="64.25" x2="117.01" y2="64.25" stroke="#333" stroke-width="0.4"/>
<line x1="114.81" y1="68.56" x2="117.01" y2="68.56" stroke="#333" stroke-width="0.4"/>
<line x1="118.48" y1="61.66" x2="118.48" y2="66.83" stroke="#333" stroke-width="0.4"/>
<line x1="117.38" y1="61.66" x2="119.58" y2="61.66" stroke="#333" stroke-width="0.4"/>
<line x1="117.38" y1="66.83" x2="119.58" y2="66.83" stroke="#333" stroke-width="0.4"/>
<line x1="123.61" y1="63.81" x2="123.61" y2="68.12" stroke="#333" stroke-width="0.4"/>
<line x1="122.51" y1="63.81" x2="124.71" y2="63.81" stroke="#333" stroke-width="0.4"/>
<line x1="122.51" y1="68.12" x2="124.71" y2="68.12" stroke="#333" stroke-width="0.4"/>
<line x1="128.75" y1="62.31" x2="128.75" y2="67.48" stroke="#333" stroke-width="0.4"/>
<line x1="127.65" y1="62.31" x2="129.85" y2="62.31" stroke="#333" stroke-width="0.4"/>
<line x1="127.65" y1="67.48" x2="129.85" y2="67.48" stroke="#333" stroke-width="0.4"/>
<line x1="133.89" y1="62.74" x2="133.89" y2="67.05" stroke="#333" stroke-width="0.4"/>
<line x1="132.79" y1="62.74" x2="134.99" y2="62.74" stroke="#333" stroke-width="0.4"/>
<line x1="132.79" y1="67.05" x2="134.99" y2="67.05" stroke="#333" stroke-width="0.4"/>
<line x1="139.03" y1="64.68" x2="139.03" y2="67.26" stroke="#333" stroke-width="0.4"/>
<line x1="137.93" y1="64.68" x2="140.12" y2="64.68" stroke="#333" stroke-width="0.4"/>
<line x1="137.93" y1="67.26" x2="140.12" y2="67.26" stroke="#333" stroke-width="0.4"/>
<line x1="154.44" y1="63.81" x2="154.44" y2="65.54" stroke="#333" stroke-width="0.4"/>
<line x1="153.34" y1="63.81" x2="155.54" y2="63.81" stroke="#333" stroke-width="0.4"/>
<line x1="153.34" y1="65.54" x2="155.54" y2="65.54" stroke="#333" stroke-width="0.4"/>
<line x1="169.85" y1="81.27" x2="169.85" y2="82.99" stroke="#333" stroke-width="0.4"/>
<line x1="168.75" y1="81.27" x2="170.95" y2="81.27" stroke="#333" stroke-width="0.4"/>
<line x1="168.75" y1="82.99" x2="170.95" y2="82.99" stroke="#333" stroke-width="0.4"/>
<line x1="200.68" y1="94.42" x2="200.68" y2="95.28" stroke="#333" stroke-width="0.4"/>
<line x1="199.58" y1="94.42" x2="201.78" y2="94.42" stroke="#333" stroke-width="0.4"/>
<line x1="199.58" y1="95.28" x2="201.78" y2="95.28" stroke="#333" stroke-width="0.4"/>
<line x1="231.5" y1="101.14" x2="231.5" y2="102" stroke="#333" stroke-width="0.4"/>
<line x1="230.4" y1="101.14" x2="232.6" y2="101.14" stroke="#333" stroke-width="0.4"/>
<line x1="230.4" y1="102" x2="232.6" y2="102" stroke="#333" stroke-width="0.4"/>
<circle cx="108.2" cy="109.5" r="0.95" fill="#bbb" stroke="#111" stroke-width="0.45"/>
<circle cx="110.77" cy="100.88" r="0.95" fill="#bbb" stroke="#111" stroke-width="0.45"/>
<circle cx="113.34" cy="88.81" r="0.95" fill="#bbb" stroke="#111" stroke-width="0.45"/>
<circle cx="115.91" cy="82.78" r="0.95" fill="#bbb" stroke="#111" stroke-width="0.45"/>
<circle cx="118.48" cy="80.19" r="0.95" fill="#bbb" stroke="#111" stroke-width="0.45"/>
<circle cx="123.61" cy="76.31" r="0.95" fill="#bbb" stroke="#111" stroke-width="0.45"/>
<circle cx="128.75" cy="75.45" r="0.95" fill="#bbb" stroke="#111" stroke-width="0.45"/>
<circle cx="133.89" cy="75.24" r="0.95" fill="#bbb" stroke="#111" stroke-width="0.45"/>
<circle cx="139.03" cy="78.9" r="0.95" fill="#bbb" stroke="#111" stroke-width="0.45"/>
<circle cx="154.44" cy="84.93" r="0.95" fill="#bbb" stroke="#111" stroke-width="0.45"/>
<circle cx="169.85" cy="92.26" r="0.95" fill="#bbb" stroke="#111" stroke-width="0.45"/>
<circle cx="200.68" cy="99.59" r="0.95" fill="#bbb" stroke="#111" stroke-width="0.45"/>
<circle cx="231.5" cy="103.9" r="0.95" fill="#bbb" stroke="#111" stroke-width="0.45"/>
<circle cx="108.2" cy="109.5" r="0.95" fill="#000" stroke="#111" stroke-width="0.45"/>
<circle cx="110.77" cy="78.04" r="0.95" fill="#000" stroke="#111" stroke-width="0.45"/>
<circle cx="113.34" cy="43.99" r="0.95" fill="#000" stroke="#111" stroke-width="0.45"/>
<circle cx="115.91" cy="38.39" r="0.95" fill="#000" stroke="#111" stroke-width="0.45"/>
<circle cx="118.48" cy="58.21" r="0.95" fill="#000" stroke="#111" stroke-width="0.45"/>
<circle cx="123.61" cy="70.06" r="0.95" fill="#000" stroke="#111" stroke-width="0.45"/>
<circle cx="128.75" cy="68.81" r="0.95" fill="#000" stroke="#111" stroke-width="0.45"/>
<circle cx="133.89" cy="70.06" r="0.95" fill="#000" stroke="#111" stroke-width="0.45"/>
<circle cx="139.03" cy="72.22" r="0.95" fill="#000" stroke="#111" stroke-width="0.45"/>
<circle cx="154.44" cy="83.64" r="0.95" fill="#000" stroke="#111" stroke-width="0.45"/>
<circle cx="169.85" cy="91.57" r="0.95" fill="#000" stroke="#111" stroke-width="0.45"/>
<circle cx="200.68" cy="99.41" r="0.95" fill="#000" stroke="#111" stroke-width="0.45"/>
<circle cx="231.5" cy="103.03" r="0.95" fill="#000" stroke="#111" stroke-width="0.45"/>
<circle cx="108.2" cy="109.5" r="0.95" fill="#c00000" stroke="#3a0000" stroke-width="0.3375"/>
<circle cx="110.77" cy="65.54" r="0.95" fill="#c00000" stroke="#3a0000" stroke-width="0.3375"/>
<circle cx="113.34" cy="53.47" r="0.95" fill="#c00000" stroke="#3a0000" stroke-width="0.3375"/>
<circle cx="115.91" cy="66.4" r="0.95" fill="#c00000" stroke="#3a0000" stroke-width="0.3375"/>
<circle cx="118.48" cy="64.25" r="0.95" fill="#c00000" stroke="#3a0000" stroke-width="0.3375"/>
<circle cx="123.61" cy="65.97" r="0.95" fill="#c00000" stroke="#3a0000" stroke-width="0.3375"/>
<circle cx="128.75" cy="64.89" r="0.95" fill="#c00000" stroke="#3a0000" stroke-width="0.3375"/>
<circle cx="133.89" cy="64.89" r="0.95" fill="#c00000" stroke="#3a0000" stroke-width="0.3375"/>
<circle cx="139.03" cy="65.97" r="0.95" fill="#c00000" stroke="#3a0000" stroke-width="0.3375"/>
<circle cx="154.44" cy="64.68" r="0.95" fill="#c00000" stroke="#3a0000" stroke-width="0.3375"/>
<circle cx="169.85" cy="82.13" r="0.95" fill="#c00000" stroke="#3a0000" stroke-width="0.3375"/>
<circle cx="200.68" cy="94.85" r="0.95" fill="#c00000" stroke="#3a0000" stroke-width="0.3375"/>
<circle cx="231.5" cy="101.57" r="0.95" fill="#c00000" stroke="#3a0000" stroke-width="0.3375"/>
<text font-size="3.9" text-anchor="middle" font-weight="normal" fill="#222" stroke="#222" stroke-width="0.14" transform="translate(93.4 67.8) rotate(-90) scale(1 1.18)">Concentration (µg/mL)</text>
<text font-size="4.0" text-anchor="middle" font-weight="normal" fill="#222" stroke="#222" stroke-width="0.14" transform="translate(170 126) scale(1 1.18)">time (min)</text>
<text font-size="8.3" text-anchor="start" font-weight="bold" fill="#111" stroke="#111" stroke-width="0.5" transform="translate(306.3 11.2) scale(1 1.0)">B</text>
<line x1="334" y1="164.8" x2="334" y2="21.3" stroke="#707070" stroke-width="1.3"/>
<line x1="331.8" y1="164.4" x2="334" y2="164.4" stroke="#707070" stroke-width="1.3"/>
<text font-size="5.3" text-anchor="end" font-weight="normal" fill="#222" stroke="#222" stroke-width="0.08" transform="translate(328.9 167.15) scale(1 1.18)">0</text>
<line x1="331.8" y1="135.78" x2="334" y2="135.78" stroke="#707070" stroke-width="1.3"/>
<text font-size="5.3" text-anchor="end" font-weight="normal" fill="#222" stroke="#222" stroke-width="0.08" transform="translate(328.9 138.53) scale(1 1.18)">100</text>
<line x1="331.8" y1="107.16" x2="334" y2="107.16" stroke="#707070" stroke-width="1.3"/>
<text font-size="5.3" text-anchor="end" font-weight="normal" fill="#222" stroke="#222" stroke-width="0.08" transform="translate(328.9 109.91) scale(1 1.18)">200</text>
<line x1="331.8" y1="78.54" x2="334" y2="78.54" stroke="#707070" stroke-width="1.3"/>
<text font-size="5.3" text-anchor="end" font-weight="normal" fill="#222" stroke="#222" stroke-width="0.08" transform="translate(328.9 81.29) scale(1 1.18)">300</text>
<line x1="331.8" y1="49.92" x2="334" y2="49.92" stroke="#707070" stroke-width="1.3"/>
<text font-size="5.3" text-anchor="end" font-weight="normal" fill="#222" stroke="#222" stroke-width="0.08" transform="translate(328.9 52.67) scale(1 1.18)">400</text>
<line x1="331.8" y1="21.3" x2="334" y2="21.3" stroke="#707070" stroke-width="1.3"/>
<text font-size="5.3" text-anchor="end" font-weight="normal" fill="#222" stroke="#222" stroke-width="0.08" transform="translate(328.9 24.05) scale(1 1.18)">500</text>
<line x1="334" y1="164.4" x2="542.99" y2="164.4" stroke="#7a7a7a" stroke-width="1.1"/>
<line x1="334" y1="164.4" x2="334" y2="166.7" stroke="#7a7a7a" stroke-width="1.1"/>
<text font-size="5.3" text-anchor="middle" font-weight="normal" fill="#222" stroke="#222" stroke-width="0.08" transform="translate(334 175.5) scale(1 1.1)">0</text>
<line x1="351.42" y1="164.4" x2="351.42" y2="166.7" stroke="#7a7a7a" stroke-width="1.1"/>
<text font-size="5.3" text-anchor="middle" font-weight="normal" fill="#222" stroke="#222" stroke-width="0.08" transform="translate(351.42 175.5) scale(1 1.1)">20</text>
<line x1="368.83" y1="164.4" x2="368.83" y2="166.7" stroke="#7a7a7a" stroke-width="1.1"/>
<text font-size="5.3" text-anchor="middle" font-weight="normal" fill="#222" stroke="#222" stroke-width="0.08" transform="translate(368.83 175.5) scale(1 1.1)">40</text>
<line x1="386.25" y1="164.4" x2="386.25" y2="166.7" stroke="#7a7a7a" stroke-width="1.1"/>
<text font-size="5.3" text-anchor="middle" font-weight="normal" fill="#222" stroke="#222" stroke-width="0.08" transform="translate(386.25 175.5) scale(1 1.1)">60</text>
<line x1="403.66" y1="164.4" x2="403.66" y2="166.7" stroke="#7a7a7a" stroke-width="1.1"/>
<text font-size="5.3" text-anchor="middle" font-weight="normal" fill="#222" stroke="#222" stroke-width="0.08" transform="translate(403.66 175.5) scale(1 1.1)">80</text>
<line x1="421.08" y1="164.4" x2="421.08" y2="166.7" stroke="#7a7a7a" stroke-width="1.1"/>
<text font-size="5.3" text-anchor="middle" font-weight="normal" fill="#222" stroke="#222" stroke-width="0.08" transform="translate(421.08 175.5) scale(1 1.1)">100</text>
<line x1="438.5" y1="164.4" x2="438.5" y2="166.7" stroke="#7a7a7a" stroke-width="1.1"/>
<text font-size="5.3" text-anchor="middle" font-weight="normal" fill="#222" stroke="#222" stroke-width="0.08" transform="translate(438.5 175.5) scale(1 1.1)">120</text>
<line x1="455.91" y1="164.4" x2="455.91" y2="166.7" stroke="#7a7a7a" stroke-width="1.1"/>
<text font-size="5.3" text-anchor="middle" font-weight="normal" fill="#222" stroke="#222" stroke-width="0.08" transform="translate(455.91 175.5) scale(1 1.1)">140</text>
<line x1="473.33" y1="164.4" x2="473.33" y2="166.7" stroke="#7a7a7a" stroke-width="1.1"/>
<text font-size="5.3" text-anchor="middle" font-weight="normal" fill="#222" stroke="#222" stroke-width="0.08" transform="translate(473.33 175.5) scale(1 1.1)">160</text>
<line x1="490.74" y1="164.4" x2="490.74" y2="166.7" stroke="#7a7a7a" stroke-width="1.1"/>
<text font-size="5.3" text-anchor="middle" font-weight="normal" fill="#222" stroke="#222" stroke-width="0.08" transform="translate(490.74 175.5) scale(1 1.1)">180</text>
<line x1="508.16" y1="164.4" x2="508.16" y2="166.7" stroke="#7a7a7a" stroke-width="1.1"/>
<text font-size="5.3" text-anchor="middle" font-weight="normal" fill="#222" stroke="#222" stroke-width="0.08" transform="translate(508.16 175.5) scale(1 1.1)">200</text>
<line x1="525.58" y1="164.4" x2="525.58" y2="166.7" stroke="#7a7a7a" stroke-width="1.1"/>
<text font-size="5.3" text-anchor="middle" font-weight="normal" fill="#222" stroke="#222" stroke-width="0.08" transform="translate(525.58 175.5) scale(1 1.1)">220</text>
<line x1="542.99" y1="164.4" x2="542.99" y2="166.7" stroke="#7a7a7a" stroke-width="1.1"/>
<text font-size="5.3" text-anchor="middle" font-weight="normal" fill="#222" stroke="#222" stroke-width="0.08" transform="translate(542.99 175.5) scale(1 1.1)">240</text>
<polyline points="334,164.4 336.18,156.19 338.35,149.8 340.53,145.51 342.71,142.65 347.06,140.93 351.42,140.07 355.77,140.79 360.12,142.36 373.19,146.66 386.25,152.09 412.37,157.53 438.5,160.68 490.74,162.97 542.99,163.26" fill="none" stroke="#222" stroke-width="0.75" stroke-linejoin="round"/>
<polyline points="334,164.4 336.18,136.35 338.35,114.31 340.53,103.55 342.71,101.44 347.06,116.89 351.42,125.48 355.77,130.91 360.12,135.49 373.19,144.94 386.25,150.95 412.37,157.25 438.5,160.51 490.74,162.68 542.99,162.97" fill="none" stroke="#222" stroke-width="0.75" stroke-linejoin="round"/>
<polyline points="334,164.4 336.18,109.45 338.35,61.08 340.53,46.03 342.71,61.08 347.06,83.69 351.42,100.86 355.77,108.59 360.12,119.18 373.19,129.48 386.25,143.22 412.37,154.1 438.5,158.1 490.74,160.79 542.99,161.39" fill="none" stroke="#222" stroke-width="0.75" stroke-linejoin="round"/>
<line x1="336.18" y1="155.33" x2="336.18" y2="157.04" stroke="#333" stroke-width="0.6"/>
<line x1="334.08" y1="155.33" x2="338.28" y2="155.33" stroke="#333" stroke-width="0.6"/>
<line x1="334.08" y1="157.04" x2="338.28" y2="157.04" stroke="#333" stroke-width="0.6"/>
<line x1="338.35" y1="148.66" x2="338.35" y2="150.95" stroke="#333" stroke-width="0.6"/>
<line x1="336.25" y1="148.66" x2="340.45" y2="148.66" stroke="#333" stroke-width="0.6"/>
<line x1="336.25" y1="150.95" x2="340.45" y2="150.95" stroke="#333" stroke-width="0.6"/>
<line x1="340.53" y1="144.37" x2="340.53" y2="146.66" stroke="#333" stroke-width="0.6"/>
<line x1="338.43" y1="144.37" x2="342.63" y2="144.37" stroke="#333" stroke-width="0.6"/>
<line x1="338.43" y1="146.66" x2="342.63" y2="146.66" stroke="#333" stroke-width="0.6"/>
<line x1="342.71" y1="141.5" x2="342.71" y2="143.79" stroke="#333" stroke-width="0.6"/>
<line x1="340.61" y1="141.5" x2="344.81" y2="141.5" stroke="#333" stroke-width="0.6"/>
<line x1="340.61" y1="143.79" x2="344.81" y2="143.79" stroke="#333" stroke-width="0.6"/>
<line x1="347.06" y1="140.07" x2="347.06" y2="141.79" stroke="#333" stroke-width="0.6"/>
<line x1="344.96" y1="140.07" x2="349.16" y2="140.07" stroke="#333" stroke-width="0.6"/>
<line x1="344.96" y1="141.79" x2="349.16" y2="141.79" stroke="#333" stroke-width="0.6"/>
<line x1="351.42" y1="139.21" x2="351.42" y2="140.93" stroke="#333" stroke-width="0.6"/>
<line x1="349.32" y1="139.21" x2="353.52" y2="139.21" stroke="#333" stroke-width="0.6"/>
<line x1="349.32" y1="140.93" x2="353.52" y2="140.93" stroke="#333" stroke-width="0.6"/>
<line x1="355.77" y1="139.93" x2="355.77" y2="141.65" stroke="#333" stroke-width="0.6"/>
<line x1="353.67" y1="139.93" x2="357.87" y2="139.93" stroke="#333" stroke-width="0.6"/>
<line x1="353.67" y1="141.65" x2="357.87" y2="141.65" stroke="#333" stroke-width="0.6"/>
<line x1="360.12" y1="141.5" x2="360.12" y2="143.22" stroke="#333" stroke-width="0.6"/>
<line x1="358.02" y1="141.5" x2="362.22" y2="141.5" stroke="#333" stroke-width="0.6"/>
<line x1="358.02" y1="143.22" x2="362.22" y2="143.22" stroke="#333" stroke-width="0.6"/>
<line x1="373.19" y1="145.8" x2="373.19" y2="147.51" stroke="#333" stroke-width="0.6"/>
<line x1="371.09" y1="145.8" x2="375.29" y2="145.8" stroke="#333" stroke-width="0.6"/>
<line x1="371.09" y1="147.51" x2="375.29" y2="147.51" stroke="#333" stroke-width="0.6"/>
<line x1="386.25" y1="151.23" x2="386.25" y2="152.95" stroke="#333" stroke-width="0.6"/>
<line x1="384.15" y1="151.23" x2="388.35" y2="151.23" stroke="#333" stroke-width="0.6"/>
<line x1="384.15" y1="152.95" x2="388.35" y2="152.95" stroke="#333" stroke-width="0.6"/>
<line x1="412.37" y1="156.96" x2="412.37" y2="158.1" stroke="#333" stroke-width="0.6"/>
<line x1="410.27" y1="156.96" x2="414.47" y2="156.96" stroke="#333" stroke-width="0.6"/>
<line x1="410.27" y1="158.1" x2="414.47" y2="158.1" stroke="#333" stroke-width="0.6"/>
<line x1="438.5" y1="160.39" x2="438.5" y2="160.97" stroke="#333" stroke-width="0.6"/>
<line x1="436.4" y1="160.39" x2="440.6" y2="160.39" stroke="#333" stroke-width="0.6"/>
<line x1="436.4" y1="160.97" x2="440.6" y2="160.97" stroke="#333" stroke-width="0.6"/>
<line x1="490.74" y1="162.68" x2="490.74" y2="163.26" stroke="#333" stroke-width="0.6"/>
<line x1="488.64" y1="162.68" x2="492.84" y2="162.68" stroke="#333" stroke-width="0.6"/>
<line x1="488.64" y1="163.26" x2="492.84" y2="163.26" stroke="#333" stroke-width="0.6"/>
<line x1="542.99" y1="162.97" x2="542.99" y2="163.54" stroke="#333" stroke-width="0.6"/>
<line x1="540.89" y1="162.97" x2="545.09" y2="162.97" stroke="#333" stroke-width="0.6"/>
<line x1="540.89" y1="163.54" x2="545.09" y2="163.54" stroke="#333" stroke-width="0.6"/>
<line x1="336.18" y1="134.06" x2="336.18" y2="138.64" stroke="#333" stroke-width="0.6"/>
<line x1="334.08" y1="134.06" x2="338.28" y2="134.06" stroke="#333" stroke-width="0.6"/>
<line x1="334.08" y1="138.64" x2="338.28" y2="138.64" stroke="#333" stroke-width="0.6"/>
<line x1="338.35" y1="112.03" x2="338.35" y2="116.6" stroke="#333" stroke-width="0.6"/>
<line x1="336.25" y1="112.03" x2="340.45" y2="112.03" stroke="#333" stroke-width="0.6"/>
<line x1="336.25" y1="116.6" x2="340.45" y2="116.6" stroke="#333" stroke-width="0.6"/>
<line x1="340.53" y1="100.69" x2="340.53" y2="106.42" stroke="#333" stroke-width="0.6"/>
<line x1="338.43" y1="100.69" x2="342.63" y2="100.69" stroke="#333" stroke-width="0.6"/>
<line x1="338.43" y1="106.42" x2="342.63" y2="106.42" stroke="#333" stroke-width="0.6"/>
<line x1="342.71" y1="98" x2="342.71" y2="104.87" stroke="#333" stroke-width="0.6"/>
<line x1="340.61" y1="98" x2="344.81" y2="98" stroke="#333" stroke-width="0.6"/>
<line x1="340.61" y1="104.87" x2="344.81" y2="104.87" stroke="#333" stroke-width="0.6"/>
<line x1="347.06" y1="114.6" x2="347.06" y2="119.18" stroke="#333" stroke-width="0.6"/>
<line x1="344.96" y1="114.6" x2="349.16" y2="114.6" stroke="#333" stroke-width="0.6"/>
<line x1="344.96" y1="119.18" x2="349.16" y2="119.18" stroke="#333" stroke-width="0.6"/>
<line x1="351.42" y1="123.76" x2="351.42" y2="127.19" stroke="#333" stroke-width="0.6"/>
<line x1="349.32" y1="123.76" x2="353.52" y2="123.76" stroke="#333" stroke-width="0.6"/>
<line x1="349.32" y1="127.19" x2="353.52" y2="127.19" stroke="#333" stroke-width="0.6"/>
<line x1="355.77" y1="129.2" x2="355.77" y2="132.63" stroke="#333" stroke-width="0.6"/>
<line x1="353.67" y1="129.2" x2="357.87" y2="129.2" stroke="#333" stroke-width="0.6"/>
<line x1="353.67" y1="132.63" x2="357.87" y2="132.63" stroke="#333" stroke-width="0.6"/>
<line x1="360.12" y1="134.06" x2="360.12" y2="136.92" stroke="#333" stroke-width="0.6"/>
<line x1="358.02" y1="134.06" x2="362.22" y2="134.06" stroke="#333" stroke-width="0.6"/>
<line x1="358.02" y1="136.92" x2="362.22" y2="136.92" stroke="#333" stroke-width="0.6"/>
<line x1="373.19" y1="143.22" x2="373.19" y2="146.66" stroke="#333" stroke-width="0.6"/>
<line x1="371.09" y1="143.22" x2="375.29" y2="143.22" stroke="#333" stroke-width="0.6"/>
<line x1="371.09" y1="146.66" x2="375.29" y2="146.66" stroke="#333" stroke-width="0.6"/>
<line x1="386.25" y1="149.8" x2="386.25" y2="152.09" stroke="#333" stroke-width="0.6"/>
<line x1="384.15" y1="149.8" x2="388.35" y2="149.8" stroke="#333" stroke-width="0.6"/>
<line x1="384.15" y1="152.09" x2="388.35" y2="152.09" stroke="#333" stroke-width="0.6"/>
<line x1="412.37" y1="156.67" x2="412.37" y2="157.82" stroke="#333" stroke-width="0.6"/>
<line x1="410.27" y1="156.67" x2="414.47" y2="156.67" stroke="#333" stroke-width="0.6"/>
<line x1="410.27" y1="157.82" x2="414.47" y2="157.82" stroke="#333" stroke-width="0.6"/>
<line x1="438.5" y1="159.94" x2="438.5" y2="161.08" stroke="#333" stroke-width="0.6"/>
<line x1="436.4" y1="159.94" x2="440.6" y2="159.94" stroke="#333" stroke-width="0.6"/>
<line x1="436.4" y1="161.08" x2="440.6" y2="161.08" stroke="#333" stroke-width="0.6"/>
<line x1="490.74" y1="162.4" x2="490.74" y2="162.97" stroke="#333" stroke-width="0.6"/>
<line x1="488.64" y1="162.4" x2="492.84" y2="162.4" stroke="#333" stroke-width="0.6"/>
<line x1="488.64" y1="162.97" x2="492.84" y2="162.97" stroke="#333" stroke-width="0.6"/>
<line x1="542.99" y1="162.68" x2="542.99" y2="163.26" stroke="#333" stroke-width="0.6"/>
<line x1="540.89" y1="162.68" x2="545.09" y2="162.68" stroke="#333" stroke-width="0.6"/>
<line x1="540.89" y1="163.26" x2="545.09" y2="163.26" stroke="#333" stroke-width="0.6"/>
<line x1="336.18" y1="107.16" x2="336.18" y2="111.74" stroke="#333" stroke-width="0.6"/>
<line x1="334.08" y1="107.16" x2="338.28" y2="107.16" stroke="#333" stroke-width="0.6"/>
<line x1="334.08" y1="111.74" x2="338.28" y2="111.74" stroke="#333" stroke-width="0.6"/>
<line x1="338.35" y1="40.48" x2="338.35" y2="81.69" stroke="#333" stroke-width="0.6"/>
<line x1="336.25" y1="40.48" x2="340.45" y2="40.48" stroke="#333" stroke-width="0.6"/>
<line x1="336.25" y1="81.69" x2="340.45" y2="81.69" stroke="#333" stroke-width="0.6"/>
<line x1="340.53" y1="31.15" x2="340.53" y2="60.91" stroke="#333" stroke-width="0.6"/>
<line x1="338.43" y1="31.15" x2="342.63" y2="31.15" stroke="#333" stroke-width="0.6"/>
<line x1="338.43" y1="60.91" x2="342.63" y2="60.91" stroke="#333" stroke-width="0.6"/>
<line x1="342.71" y1="57.36" x2="342.71" y2="64.8" stroke="#333" stroke-width="0.6"/>
<line x1="340.61" y1="57.36" x2="344.81" y2="57.36" stroke="#333" stroke-width="0.6"/>
<line x1="340.61" y1="64.8" x2="344.81" y2="64.8" stroke="#333" stroke-width="0.6"/>
<line x1="347.06" y1="76.54" x2="347.06" y2="90.85" stroke="#333" stroke-width="0.6"/>
<line x1="344.96" y1="76.54" x2="349.16" y2="76.54" stroke="#333" stroke-width="0.6"/>
<line x1="344.96" y1="90.85" x2="349.16" y2="90.85" stroke="#333" stroke-width="0.6"/>
<line x1="351.42" y1="93.71" x2="351.42" y2="108.02" stroke="#333" stroke-width="0.6"/>
<line x1="349.32" y1="93.71" x2="353.52" y2="93.71" stroke="#333" stroke-width="0.6"/>
<line x1="349.32" y1="108.02" x2="353.52" y2="108.02" stroke="#333" stroke-width="0.6"/>
<line x1="355.77" y1="101.72" x2="355.77" y2="115.46" stroke="#333" stroke-width="0.6"/>
<line x1="353.67" y1="101.72" x2="357.87" y2="101.72" stroke="#333" stroke-width="0.6"/>
<line x1="353.67" y1="115.46" x2="357.87" y2="115.46" stroke="#333" stroke-width="0.6"/>
<line x1="360.12" y1="116.32" x2="360.12" y2="122.04" stroke="#333" stroke-width="0.6"/>
<line x1="358.02" y1="116.32" x2="362.22" y2="116.32" stroke="#333" stroke-width="0.6"/>
<line x1="358.02" y1="122.04" x2="362.22" y2="122.04" stroke="#333" stroke-width="0.6"/>
<line x1="373.19" y1="128.34" x2="373.19" y2="130.63" stroke="#333" stroke-width="0.6"/>
<line x1="371.09" y1="128.34" x2="375.29" y2="128.34" stroke="#333" stroke-width="0.6"/>
<line x1="371.09" y1="130.63" x2="375.29" y2="130.63" stroke="#333" stroke-width="0.6"/>
<line x1="386.25" y1="142.36" x2="386.25" y2="144.08" stroke="#333" stroke-width="0.6"/>
<line x1="384.15" y1="142.36" x2="388.35" y2="142.36" stroke="#333" stroke-width="0.6"/>
<line x1="384.15" y1="144.08" x2="388.35" y2="144.08" stroke="#333" stroke-width="0.6"/>
<line x1="412.37" y1="153.24" x2="412.37" y2="154.96" stroke="#333" stroke-width="0.6"/>
<line x1="410.27" y1="153.24" x2="414.47" y2="153.24" stroke="#333" stroke-width="0.6"/>
<line x1="410.27" y1="154.96" x2="414.47" y2="154.96" stroke="#333" stroke-width="0.6"/>
<line x1="438.5" y1="157.53" x2="438.5" y2="158.68" stroke="#333" stroke-width="0.6"/>
<line x1="436.4" y1="157.53" x2="440.6" y2="157.53" stroke="#333" stroke-width="0.6"/>
<line x1="436.4" y1="158.68" x2="440.6" y2="158.68" stroke="#333" stroke-width="0.6"/>
<line x1="490.74" y1="160.22" x2="490.74" y2="161.37" stroke="#333" stroke-width="0.6"/>
<line x1="488.64" y1="160.22" x2="492.84" y2="160.22" stroke="#333" stroke-width="0.6"/>
<line x1="488.64" y1="161.37" x2="492.84" y2="161.37" stroke="#333" stroke-width="0.6"/>
<line x1="542.99" y1="160.82" x2="542.99" y2="161.97" stroke="#333" stroke-width="0.6"/>
<line x1="540.89" y1="160.82" x2="545.09" y2="160.82" stroke="#333" stroke-width="0.6"/>
<line x1="540.89" y1="161.97" x2="545.09" y2="161.97" stroke="#333" stroke-width="0.6"/>
<circle cx="334" cy="164.4" r="1.6" fill="#fff" stroke="#111" stroke-width="0.55"/>
<circle cx="336.18" cy="156.19" r="1.6" fill="#fff" stroke="#111" stroke-width="0.55"/>
<circle cx="338.35" cy="149.8" r="1.6" fill="#fff" stroke="#111" stroke-width="0.55"/>
<circle cx="340.53" cy="145.51" r="1.6" fill="#fff" stroke="#111" stroke-width="0.55"/>
<circle cx="342.71" cy="142.65" r="1.6" fill="#fff" stroke="#111" stroke-width="0.55"/>
<circle cx="347.06" cy="140.93" r="1.6" fill="#fff" stroke="#111" stroke-width="0.55"/>
<circle cx="351.42" cy="140.07" r="1.6" fill="#fff" stroke="#111" stroke-width="0.55"/>
<circle cx="355.77" cy="140.79" r="1.6" fill="#fff" stroke="#111" stroke-width="0.55"/>
<circle cx="360.12" cy="142.36" r="1.6" fill="#fff" stroke="#111" stroke-width="0.55"/>
<circle cx="373.19" cy="146.66" r="1.6" fill="#fff" stroke="#111" stroke-width="0.55"/>
<circle cx="386.25" cy="152.09" r="1.6" fill="#fff" stroke="#111" stroke-width="0.55"/>
<circle cx="412.37" cy="157.53" r="1.6" fill="#fff" stroke="#111" stroke-width="0.55"/>
<circle cx="438.5" cy="160.68" r="1.6" fill="#fff" stroke="#111" stroke-width="0.55"/>
<circle cx="490.74" cy="162.97" r="1.6" fill="#fff" stroke="#111" stroke-width="0.55"/>
<circle cx="542.99" cy="163.26" r="1.6" fill="#fff" stroke="#111" stroke-width="0.55"/>
<circle cx="334" cy="164.4" r="1.6" fill="#000" stroke="#111" stroke-width="0.55"/>
<circle cx="336.18" cy="136.35" r="1.6" fill="#000" stroke="#111" stroke-width="0.55"/>
<circle cx="338.35" cy="114.31" r="1.6" fill="#000" stroke="#111" stroke-width="0.55"/>
<circle cx="340.53" cy="103.55" r="1.6" fill="#000" stroke="#111" stroke-width="0.55"/>
<circle cx="342.71" cy="101.44" r="1.6" fill="#000" stroke="#111" stroke-width="0.55"/>
<circle cx="347.06" cy="116.89" r="1.6" fill="#000" stroke="#111" stroke-width="0.55"/>
<circle cx="351.42" cy="125.48" r="1.6" fill="#000" stroke="#111" stroke-width="0.55"/>
<circle cx="355.77" cy="130.91" r="1.6" fill="#000" stroke="#111" stroke-width="0.55"/>
<circle cx="360.12" cy="135.49" r="1.6" fill="#000" stroke="#111" stroke-width="0.55"/>
<circle cx="373.19" cy="144.94" r="1.6" fill="#000" stroke="#111" stroke-width="0.55"/>
<circle cx="386.25" cy="150.95" r="1.6" fill="#000" stroke="#111" stroke-width="0.55"/>
<circle cx="412.37" cy="157.25" r="1.6" fill="#000" stroke="#111" stroke-width="0.55"/>
<circle cx="438.5" cy="160.51" r="1.6" fill="#000" stroke="#111" stroke-width="0.55"/>
<circle cx="490.74" cy="162.68" r="1.6" fill="#000" stroke="#111" stroke-width="0.55"/>
<circle cx="542.99" cy="162.97" r="1.6" fill="#000" stroke="#111" stroke-width="0.55"/>
<circle cx="334" cy="164.4" r="1.6" fill="#ff0000" stroke="#3a0000" stroke-width="0.41250000000000003"/>
<circle cx="336.18" cy="109.45" r="1.6" fill="#ff0000" stroke="#3a0000" stroke-width="0.41250000000000003"/>
<circle cx="338.35" cy="61.08" r="1.6" fill="#ff0000" stroke="#3a0000" stroke-width="0.41250000000000003"/>
<circle cx="340.53" cy="46.03" r="1.6" fill="#ff0000" stroke="#3a0000" stroke-width="0.41250000000000003"/>
<circle cx="342.71" cy="61.08" r="1.6" fill="#ff0000" stroke="#3a0000" stroke-width="0.41250000000000003"/>
<circle cx="347.06" cy="83.69" r="1.6" fill="#ff0000" stroke="#3a0000" stroke-width="0.41250000000000003"/>
<circle cx="351.42" cy="100.86" r="1.6" fill="#ff0000" stroke="#3a0000" stroke-width="0.41250000000000003"/>
<circle cx="355.77" cy="108.59" r="1.6" fill="#ff0000" stroke="#3a0000" stroke-width="0.41250000000000003"/>
<circle cx="360.12" cy="119.18" r="1.6" fill="#ff0000" stroke="#3a0000" stroke-width="0.41250000000000003"/>
<circle cx="373.19" cy="129.48" r="1.6" fill="#ff0000" stroke="#3a0000" stroke-width="0.41250000000000003"/>
<circle cx="386.25" cy="143.22" r="1.6" fill="#ff0000" stroke="#3a0000" stroke-width="0.41250000000000003"/>
<circle cx="412.37" cy="154.1" r="1.6" fill="#ff0000" stroke="#3a0000" stroke-width="0.41250000000000003"/>
<circle cx="438.5" cy="158.1" r="1.6" fill="#ff0000" stroke="#3a0000" stroke-width="0.41250000000000003"/>
<circle cx="490.74" cy="160.79" r="1.6" fill="#ff0000" stroke="#3a0000" stroke-width="0.41250000000000003"/>
<circle cx="542.99" cy="161.39" r="1.6" fill="#ff0000" stroke="#3a0000" stroke-width="0.41250000000000003"/>
<text font-size="6.2" text-anchor="middle" font-weight="normal" fill="#222" stroke="#222" stroke-width="0.22" transform="translate(313.4 89) rotate(-90) scale(1 1.18)">concentration (µg/mL)</text>
<text font-size="6.7" text-anchor="middle" font-weight="normal" fill="#222" stroke="#222" stroke-width="0.23" transform="translate(439 188.2) scale(1 1.03)">time (min)</text>
<line x1="379.9" y1="204.9" x2="392.8" y2="204.9" stroke="#666" stroke-width="0.9"/>
<circle cx="386.35" cy="204.9" r="1.6" fill="#fff" stroke="#111" stroke-width="0.55"/>
<text font-size="5.6" text-anchor="start" font-weight="normal" fill="#222" stroke="#222" stroke-width="0.2" transform="translate(396.3 207.28) scale(1 1.18)">75 mg</text>
<line x1="417.3" y1="204.9" x2="431.1" y2="204.9" stroke="#666" stroke-width="0.9"/>
<circle cx="424.2" cy="204.9" r="1.6" fill="#000" stroke="#111" stroke-width="0.55"/>
<text font-size="5.6" text-anchor="start" font-weight="normal" fill="#222" stroke="#222" stroke-width="0.2" transform="translate(434.3 207.28) scale(1 1.18)">200 mg</text>
<line x1="458.6" y1="204.9" x2="471.5" y2="204.9" stroke="#666" stroke-width="0.9"/>
<circle cx="465.05" cy="204.9" r="1.6" fill="#ff0000" stroke="#3a0000" stroke-width="0.41250000000000003"/>
<text font-size="5.6" text-anchor="start" font-weight="normal" fill="#222" stroke="#222" stroke-width="0.2" transform="translate(475.5 207.28) scale(1 1.18)">500 mg</text>
<text font-size="8.3" text-anchor="start" font-weight="bold" fill="#111" stroke="#111" stroke-width="0.5" transform="translate(16.6 232.6) scale(1 1.0)">C</text>
<line x1="42.5" y1="375" x2="42.5" y2="239" stroke="#8a8a8a" stroke-width="1.0"/>
<line x1="40.1" y1="374.6" x2="42.5" y2="374.6" stroke="#8a8a8a" stroke-width="1.0"/>
<text font-size="5.2" text-anchor="end" font-weight="normal" fill="#222" stroke="#222" stroke-width="0.08" transform="translate(38.4 377.54) scale(1 1.25)">0</text>
<line x1="40.1" y1="347.48" x2="42.5" y2="347.48" stroke="#8a8a8a" stroke-width="1.0"/>
<text font-size="5.2" text-anchor="end" font-weight="normal" fill="#222" stroke="#222" stroke-width="0.08" transform="translate(38.4 350.42) scale(1 1.25)">20</text>
<line x1="40.1" y1="320.36" x2="42.5" y2="320.36" stroke="#8a8a8a" stroke-width="1.0"/>
<text font-size="5.2" text-anchor="end" font-weight="normal" fill="#222" stroke="#222" stroke-width="0.08" transform="translate(38.4 323.3) scale(1 1.25)">40</text>
<line x1="40.1" y1="293.24" x2="42.5" y2="293.24" stroke="#8a8a8a" stroke-width="1.0"/>
<text font-size="5.2" text-anchor="end" font-weight="normal" fill="#222" stroke="#222" stroke-width="0.08" transform="translate(38.4 296.18) scale(1 1.25)">60</text>
<line x1="40.1" y1="266.12" x2="42.5" y2="266.12" stroke="#8a8a8a" stroke-width="1.0"/>
<text font-size="5.2" text-anchor="end" font-weight="normal" fill="#222" stroke="#222" stroke-width="0.08" transform="translate(38.4 269.06) scale(1 1.25)">80</text>
<line x1="40.1" y1="239" x2="42.5" y2="239" stroke="#8a8a8a" stroke-width="1.0"/>
<text font-size="5.2" text-anchor="end" font-weight="normal" fill="#222" stroke="#222" stroke-width="0.08" transform="translate(38.4 241.94) scale(1 1.25)">100</text>
<line x1="42.1" y1="374.6" x2="237.52" y2="374.6" stroke="#8a8a8a" stroke-width="1.0"/>
<line x1="42.5" y1="374.6" x2="42.5" y2="376.4" stroke="#8a8a8a" stroke-width="1.0"/>
<text font-size="5.2" text-anchor="middle" font-weight="normal" fill="#222" stroke="#222" stroke-width="0.08" transform="translate(42.5 384.5) scale(1 1.1)">0</text>
<line x1="56.43" y1="374.6" x2="56.43" y2="376.4" stroke="#8a8a8a" stroke-width="1.0"/>
<text font-size="5.2" text-anchor="middle" font-weight="normal" fill="#222" stroke="#222" stroke-width="0.08" transform="translate(56.43 384.5) scale(1 1.1)">2.5</text>
<line x1="70.36" y1="374.6" x2="70.36" y2="376.4" stroke="#8a8a8a" stroke-width="1.0"/>
<text font-size="5.2" text-anchor="middle" font-weight="normal" fill="#222" stroke="#222" stroke-width="0.08" transform="translate(70.36 384.5) scale(1 1.1)">5</text>
<line x1="84.29" y1="374.6" x2="84.29" y2="376.4" stroke="#8a8a8a" stroke-width="1.0"/>
<text font-size="5.2" text-anchor="middle" font-weight="normal" fill="#222" stroke="#222" stroke-width="0.08" transform="translate(84.29 384.5) scale(1 1.1)">7.5</text>
<line x1="98.22" y1="374.6" x2="98.22" y2="376.4" stroke="#8a8a8a" stroke-width="1.0"/>
<text font-size="5.2" text-anchor="middle" font-weight="normal" fill="#222" stroke="#222" stroke-width="0.08" transform="translate(98.22 384.5) scale(1 1.1)">10</text>
<line x1="112.15" y1="374.6" x2="112.15" y2="376.4" stroke="#8a8a8a" stroke-width="1.0"/>
<text font-size="5.2" text-anchor="middle" font-weight="normal" fill="#222" stroke="#222" stroke-width="0.08" transform="translate(112.15 384.5) scale(1 1.1)">15</text>
<line x1="126.08" y1="374.6" x2="126.08" y2="376.4" stroke="#8a8a8a" stroke-width="1.0"/>
<text font-size="5.2" text-anchor="middle" font-weight="normal" fill="#222" stroke="#222" stroke-width="0.08" transform="translate(126.08 384.5) scale(1 1.1)">20</text>
<line x1="140.01" y1="374.6" x2="140.01" y2="376.4" stroke="#8a8a8a" stroke-width="1.0"/>
<text font-size="5.2" text-anchor="middle" font-weight="normal" fill="#222" stroke="#222" stroke-width="0.08" transform="translate(140.01 384.5) scale(1 1.1)">25</text>
<line x1="153.94" y1="374.6" x2="153.94" y2="376.4" stroke="#8a8a8a" stroke-width="1.0"/>
<text font-size="5.2" text-anchor="middle" font-weight="normal" fill="#222" stroke="#222" stroke-width="0.08" transform="translate(153.94 384.5) scale(1 1.1)">30</text>
<line x1="167.87" y1="374.6" x2="167.87" y2="376.4" stroke="#8a8a8a" stroke-width="1.0"/>
<text font-size="5.2" text-anchor="middle" font-weight="normal" fill="#222" stroke="#222" stroke-width="0.08" transform="translate(167.87 384.5) scale(1 1.1)">45</text>
<line x1="181.8" y1="374.6" x2="181.8" y2="376.4" stroke="#8a8a8a" stroke-width="1.0"/>
<text font-size="5.2" text-anchor="middle" font-weight="normal" fill="#222" stroke="#222" stroke-width="0.08" transform="translate(181.8 384.5) scale(1 1.1)">60</text>
<line x1="195.73" y1="374.6" x2="195.73" y2="376.4" stroke="#8a8a8a" stroke-width="1.0"/>
<text font-size="5.2" text-anchor="middle" font-weight="normal" fill="#222" stroke="#222" stroke-width="0.08" transform="translate(195.73 384.5) scale(1 1.1)">90</text>
<line x1="209.66" y1="374.6" x2="209.66" y2="376.4" stroke="#8a8a8a" stroke-width="1.0"/>
<text font-size="5.2" text-anchor="middle" font-weight="normal" fill="#222" stroke="#222" stroke-width="0.08" transform="translate(209.66 384.5) scale(1 1.1)">120</text>
<line x1="223.59" y1="374.6" x2="223.59" y2="376.4" stroke="#8a8a8a" stroke-width="1.0"/>
<text font-size="5.2" text-anchor="middle" font-weight="normal" fill="#222" stroke="#222" stroke-width="0.08" transform="translate(223.59 384.5) scale(1 1.1)">180</text>
<line x1="237.52" y1="374.6" x2="237.52" y2="376.4" stroke="#8a8a8a" stroke-width="1.0"/>
<text font-size="5.2" text-anchor="middle" font-weight="normal" fill="#222" stroke="#222" stroke-width="0.08" transform="translate(237.52 384.5) scale(1 1.1)">240</text>
<rect x="52.53" y="352.63" width="3.2" height="21.97" fill="#959595" stroke="#111" stroke-width="0.45"/>
<line x1="54.13" y1="352.63" x2="54.13" y2="346.12" stroke="#222" stroke-width="0.6"/>
<line x1="52.33" y1="346.12" x2="55.93" y2="346.12" stroke="#222" stroke-width="0.6"/>
<rect x="55.73" y="344.23" width="2" height="30.37" fill="#000" stroke="#111" stroke-width="0.45"/>
<line x1="56.73" y1="344.23" x2="56.73" y2="327.28" stroke="#222" stroke-width="0.6"/>
<line x1="54.93" y1="327.28" x2="58.53" y2="327.28" stroke="#222" stroke-width="0.6"/>
<rect x="58.18" y="333.92" width="2.35" height="40.68" fill="#c80000" stroke="#111" stroke-width="0.45"/>
<line x1="59.35" y1="333.92" x2="59.35" y2="305.72" stroke="#222" stroke-width="0.6"/>
<line x1="57.55" y1="305.72" x2="61.15" y2="305.72" stroke="#222" stroke-width="0.6"/>
<rect x="66.46" y="364.97" width="3.2" height="9.63" fill="#959595" stroke="#111" stroke-width="0.45"/>
<line x1="68.06" y1="364.97" x2="68.06" y2="361.04" stroke="#222" stroke-width="0.6"/>
<line x1="66.26" y1="361.04" x2="69.86" y2="361.04" stroke="#222" stroke-width="0.6"/>
<rect x="69.66" y="360.23" width="2" height="14.37" fill="#000" stroke="#111" stroke-width="0.45"/>
<line x1="70.66" y1="360.23" x2="70.66" y2="351.55" stroke="#222" stroke-width="0.6"/>
<line x1="68.86" y1="351.55" x2="72.46" y2="351.55" stroke="#222" stroke-width="0.6"/>
<rect x="72.11" y="310.46" width="2.35" height="64.14" fill="#c80000" stroke="#111" stroke-width="0.45"/>
<line x1="73.28" y1="310.46" x2="73.28" y2="289.04" stroke="#222" stroke-width="0.6"/>
<line x1="71.48" y1="289.04" x2="75.08" y2="289.04" stroke="#222" stroke-width="0.6"/>
<rect x="80.39" y="368.5" width="3.2" height="6.1" fill="#959595" stroke="#111" stroke-width="0.45"/>
<line x1="81.99" y1="368.5" x2="81.99" y2="367.14" stroke="#222" stroke-width="0.6"/>
<line x1="80.19" y1="367.14" x2="83.79" y2="367.14" stroke="#222" stroke-width="0.6"/>
<rect x="83.59" y="348.43" width="2" height="26.17" fill="#000" stroke="#111" stroke-width="0.45"/>
<line x1="84.59" y1="348.43" x2="84.59" y2="341.51" stroke="#222" stroke-width="0.6"/>
<line x1="82.79" y1="341.51" x2="86.39" y2="341.51" stroke="#222" stroke-width="0.6"/>
<rect x="86.04" y="305.17" width="2.35" height="69.43" fill="#c80000" stroke="#111" stroke-width="0.45"/>
<line x1="87.21" y1="305.17" x2="87.21" y2="294.19" stroke="#222" stroke-width="0.6"/>
<line x1="85.41" y1="294.19" x2="89.01" y2="294.19" stroke="#222" stroke-width="0.6"/>
<rect x="94.32" y="368.23" width="3.2" height="6.37" fill="#959595" stroke="#111" stroke-width="0.45"/>
<line x1="95.92" y1="368.23" x2="95.92" y2="366.46" stroke="#222" stroke-width="0.6"/>
<line x1="94.12" y1="366.46" x2="97.72" y2="366.46" stroke="#222" stroke-width="0.6"/>
<rect x="97.52" y="325.38" width="2" height="49.22" fill="#000" stroke="#111" stroke-width="0.45"/>
<line x1="98.52" y1="325.38" x2="98.52" y2="324.97" stroke="#222" stroke-width="0.6"/>
<line x1="96.72" y1="324.97" x2="100.32" y2="324.97" stroke="#222" stroke-width="0.6"/>
<rect x="99.97" y="325.38" width="2.35" height="49.22" fill="#c80000" stroke="#111" stroke-width="0.45"/>
<line x1="101.14" y1="325.38" x2="101.14" y2="321.31" stroke="#222" stroke-width="0.6"/>
<line x1="99.34" y1="321.31" x2="102.94" y2="321.31" stroke="#222" stroke-width="0.6"/>
<rect x="108.25" y="369.18" width="3.2" height="5.42" fill="#959595" stroke="#111" stroke-width="0.45"/>
<line x1="109.85" y1="369.18" x2="109.85" y2="368.36" stroke="#222" stroke-width="0.6"/>
<line x1="108.05" y1="368.36" x2="111.65" y2="368.36" stroke="#222" stroke-width="0.6"/>
<rect x="111.45" y="343.55" width="2" height="31.05" fill="#000" stroke="#111" stroke-width="0.45"/>
<line x1="112.45" y1="343.55" x2="112.45" y2="337.99" stroke="#222" stroke-width="0.6"/>
<line x1="110.65" y1="337.99" x2="114.25" y2="337.99" stroke="#222" stroke-width="0.6"/>
<rect x="113.9" y="344.9" width="2.35" height="29.7" fill="#c80000" stroke="#111" stroke-width="0.45"/>
<line x1="115.08" y1="344.9" x2="115.08" y2="339.34" stroke="#222" stroke-width="0.6"/>
<line x1="113.28" y1="339.34" x2="116.88" y2="339.34" stroke="#222" stroke-width="0.6"/>
<rect x="122.18" y="369.18" width="3.2" height="5.42" fill="#959595" stroke="#111" stroke-width="0.45"/>
<line x1="123.78" y1="369.18" x2="123.78" y2="368.77" stroke="#222" stroke-width="0.6"/>
<line x1="121.98" y1="368.77" x2="125.58" y2="368.77" stroke="#222" stroke-width="0.6"/>
<rect x="125.38" y="358.87" width="2" height="15.73" fill="#000" stroke="#111" stroke-width="0.45"/>
<line x1="126.38" y1="358.87" x2="126.38" y2="357.38" stroke="#222" stroke-width="0.6"/>
<line x1="124.58" y1="357.38" x2="128.18" y2="357.38" stroke="#222" stroke-width="0.6"/>
<rect x="127.83" y="356.29" width="2.35" height="18.31" fill="#c80000" stroke="#111" stroke-width="0.45"/>
<line x1="129" y1="356.29" x2="129" y2="351.95" stroke="#222" stroke-width="0.6"/>
<line x1="127.2" y1="351.95" x2="130.81" y2="351.95" stroke="#222" stroke-width="0.6"/>
<rect x="136.11" y="371.35" width="3.2" height="3.25" fill="#959595" stroke="#111" stroke-width="0.45"/>
<line x1="137.71" y1="371.35" x2="137.71" y2="367.14" stroke="#222" stroke-width="0.6"/>
<line x1="135.91" y1="367.14" x2="139.51" y2="367.14" stroke="#222" stroke-width="0.6"/>
<rect x="139.31" y="365.11" width="2" height="9.49" fill="#000" stroke="#111" stroke-width="0.45"/>
<line x1="140.31" y1="365.11" x2="140.31" y2="362.94" stroke="#222" stroke-width="0.6"/>
<line x1="138.51" y1="362.94" x2="142.11" y2="362.94" stroke="#222" stroke-width="0.6"/>
<rect x="141.76" y="361.31" width="2.35" height="13.29" fill="#c80000" stroke="#111" stroke-width="0.45"/>
<line x1="142.94" y1="361.31" x2="142.94" y2="357.38" stroke="#222" stroke-width="0.6"/>
<line x1="141.13" y1="357.38" x2="144.74" y2="357.38" stroke="#222" stroke-width="0.6"/>
<rect x="150.04" y="367.41" width="3.2" height="7.19" fill="#959595" stroke="#111" stroke-width="0.45"/>
<line x1="151.64" y1="367.41" x2="151.64" y2="367.14" stroke="#222" stroke-width="0.6"/>
<line x1="149.84" y1="367.14" x2="153.44" y2="367.14" stroke="#222" stroke-width="0.6"/>
<rect x="153.24" y="368.77" width="2" height="5.83" fill="#000" stroke="#111" stroke-width="0.45"/>
<line x1="154.24" y1="368.77" x2="154.24" y2="367.82" stroke="#222" stroke-width="0.6"/>
<line x1="152.44" y1="367.82" x2="156.04" y2="367.82" stroke="#222" stroke-width="0.6"/>
<rect x="155.69" y="366.46" width="2.35" height="8.14" fill="#c80000" stroke="#111" stroke-width="0.45"/>
<line x1="156.87" y1="366.46" x2="156.87" y2="364.57" stroke="#222" stroke-width="0.6"/>
<line x1="155.06" y1="364.57" x2="158.67" y2="364.57" stroke="#222" stroke-width="0.6"/>
<rect x="163.97" y="371.07" width="3.2" height="3.53" fill="#959595" stroke="#111" stroke-width="0.45"/>
<line x1="165.57" y1="371.07" x2="165.57" y2="369.72" stroke="#222" stroke-width="0.6"/>
<line x1="163.77" y1="369.72" x2="167.37" y2="369.72" stroke="#222" stroke-width="0.6"/>
<rect x="167.17" y="371.35" width="2" height="3.25" fill="#000" stroke="#111" stroke-width="0.45"/>
<line x1="168.17" y1="371.35" x2="168.17" y2="369.99" stroke="#222" stroke-width="0.6"/>
<line x1="166.37" y1="369.99" x2="169.97" y2="369.99" stroke="#222" stroke-width="0.6"/>
<rect x="169.62" y="372.43" width="2.35" height="2.17" fill="#c80000" stroke="#111" stroke-width="0.45"/>
<line x1="170.8" y1="372.43" x2="170.8" y2="371.75" stroke="#222" stroke-width="0.6"/>
<line x1="169" y1="371.75" x2="172.6" y2="371.75" stroke="#222" stroke-width="0.6"/>
<rect x="177.9" y="370.8" width="3.2" height="3.8" fill="#959595" stroke="#111" stroke-width="0.45"/>
<line x1="179.5" y1="370.8" x2="179.5" y2="369.45" stroke="#222" stroke-width="0.6"/>
<line x1="177.7" y1="369.45" x2="181.3" y2="369.45" stroke="#222" stroke-width="0.6"/>
<rect x="181.1" y="372.16" width="2" height="2.44" fill="#000" stroke="#111" stroke-width="0.45"/>
<line x1="182.1" y1="372.16" x2="182.1" y2="371.48" stroke="#222" stroke-width="0.6"/>
<line x1="180.3" y1="371.48" x2="183.9" y2="371.48" stroke="#222" stroke-width="0.6"/>
<rect x="183.55" y="373.38" width="2.35" height="1.22" fill="#c80000" stroke="#111" stroke-width="0.45"/>
<line x1="184.73" y1="373.38" x2="184.73" y2="372.97" stroke="#222" stroke-width="0.6"/>
<line x1="182.93" y1="372.97" x2="186.53" y2="372.97" stroke="#222" stroke-width="0.6"/>
<rect x="191.83" y="373.38" width="3.2" height="1.22" fill="#959595" stroke="#111" stroke-width="0.45"/>
<line x1="193.43" y1="373.38" x2="193.43" y2="372.97" stroke="#222" stroke-width="0.6"/>
<line x1="191.63" y1="372.97" x2="195.23" y2="372.97" stroke="#222" stroke-width="0.6"/>
<rect x="195.03" y="373.65" width="2" height="0.95" fill="#000" stroke="#111" stroke-width="0.45"/>
<line x1="196.03" y1="373.65" x2="196.03" y2="373.24" stroke="#222" stroke-width="0.6"/>
<line x1="194.23" y1="373.24" x2="197.83" y2="373.24" stroke="#222" stroke-width="0.6"/>
<rect x="197.48" y="374.06" width="2.35" height="0.54" fill="#c80000" stroke="#111" stroke-width="0.45"/>
<line x1="198.66" y1="374.06" x2="198.66" y2="373.79" stroke="#222" stroke-width="0.6"/>
<line x1="196.85" y1="373.79" x2="200.46" y2="373.79" stroke="#222" stroke-width="0.6"/>
<rect x="205.76" y="373.65" width="3.2" height="0.95" fill="#959595" stroke="#111" stroke-width="0.45"/>
<line x1="207.36" y1="373.65" x2="207.36" y2="373.38" stroke="#222" stroke-width="0.6"/>
<line x1="205.56" y1="373.38" x2="209.16" y2="373.38" stroke="#222" stroke-width="0.6"/>
<rect x="208.96" y="373.92" width="2" height="0.68" fill="#000" stroke="#111" stroke-width="0.45"/>
<line x1="209.96" y1="373.92" x2="209.96" y2="373.65" stroke="#222" stroke-width="0.6"/>
<line x1="208.16" y1="373.65" x2="211.76" y2="373.65" stroke="#222" stroke-width="0.6"/>
<rect x="211.41" y="374.19" width="2.35" height="0.41" fill="#c80000" stroke="#111" stroke-width="0.45"/>
<line x1="212.59" y1="374.19" x2="212.59" y2="374.06" stroke="#222" stroke-width="0.6"/>
<line x1="210.78" y1="374.06" x2="214.39" y2="374.06" stroke="#222" stroke-width="0.6"/>
<rect x="219.69" y="373.92" width="3.2" height="0.68" fill="#959595" stroke="#111" stroke-width="0.45"/>
<line x1="221.29" y1="373.92" x2="221.29" y2="373.65" stroke="#222" stroke-width="0.6"/>
<line x1="219.49" y1="373.65" x2="223.09" y2="373.65" stroke="#222" stroke-width="0.6"/>
<rect x="222.89" y="374.06" width="2" height="0.54" fill="#000" stroke="#111" stroke-width="0.45"/>
<line x1="223.89" y1="374.06" x2="223.89" y2="373.92" stroke="#222" stroke-width="0.6"/>
<line x1="222.09" y1="373.92" x2="225.69" y2="373.92" stroke="#222" stroke-width="0.6"/>
<rect x="225.34" y="374.33" width="2.35" height="0.27" fill="#c80000" stroke="#111" stroke-width="0.45"/>
<line x1="226.52" y1="374.33" x2="226.52" y2="374.19" stroke="#222" stroke-width="0.6"/>
<line x1="224.72" y1="374.19" x2="228.32" y2="374.19" stroke="#222" stroke-width="0.6"/>
<text font-size="6.3" text-anchor="middle" font-weight="normal" fill="#222" stroke="#222" stroke-width="0.22" transform="translate(23.6 306) rotate(-90) scale(1 1.18)">precipitated amount (%)</text>
<text font-size="6.4" text-anchor="middle" font-weight="normal" fill="#222" stroke="#222" stroke-width="0.22" transform="translate(140 396.8) scale(1 1.03)">time (min)</text>
<rect x="89.9" y="408.1" width="12.5" height="3.9" fill="#c4c4c4" stroke="#222" stroke-width="0.7"/>
<text font-size="5.4" text-anchor="start" font-weight="normal" fill="#222" stroke="#222" stroke-width="0.19" transform="translate(105.1 412) scale(1 1.18)">75 mg</text>
<rect x="123.7" y="408.1" width="12.5" height="3.9" fill="#000" stroke="#222" stroke-width="0.7"/>
<text font-size="5.4" text-anchor="start" font-weight="normal" fill="#222" stroke="#222" stroke-width="0.19" transform="translate(138.5 412) scale(1 1.18)">200 mg</text>
<rect x="160.4" y="408.1" width="12.2" height="3.9" fill="#d80000" stroke="#222" stroke-width="0.7"/>
<text font-size="5.4" text-anchor="start" font-weight="normal" fill="#222" stroke="#222" stroke-width="0.19" transform="translate(175.3 412) scale(1 1.18)">500 mg</text>
<text font-size="8.3" text-anchor="start" font-weight="bold" fill="#111" stroke="#111" stroke-width="0.5" transform="translate(318.6 222.5) scale(1 1.0)">D</text>
<line x1="347.5" y1="375.2" x2="347.5" y2="236.1" stroke="#8a8a8a" stroke-width="1.0"/>
<line x1="345.1" y1="374.8" x2="347.5" y2="374.8" stroke="#8a8a8a" stroke-width="1.0"/>
<text font-size="5.2" text-anchor="end" font-weight="normal" fill="#222" stroke="#222" stroke-width="0.08" transform="translate(343.1 377.45) scale(1 1.15)">0</text>
<line x1="345.1" y1="347.06" x2="347.5" y2="347.06" stroke="#8a8a8a" stroke-width="1.0"/>
<text font-size="5.2" text-anchor="end" font-weight="normal" fill="#222" stroke="#222" stroke-width="0.08" transform="translate(343.1 349.71) scale(1 1.15)">200</text>
<line x1="345.1" y1="319.32" x2="347.5" y2="319.32" stroke="#8a8a8a" stroke-width="1.0"/>
<text font-size="5.2" text-anchor="end" font-weight="normal" fill="#222" stroke="#222" stroke-width="0.08" transform="translate(343.1 321.97) scale(1 1.15)">400</text>
<line x1="345.1" y1="291.58" x2="347.5" y2="291.58" stroke="#8a8a8a" stroke-width="1.0"/>
<text font-size="5.2" text-anchor="end" font-weight="normal" fill="#222" stroke="#222" stroke-width="0.08" transform="translate(343.1 294.23) scale(1 1.15)">600</text>
<line x1="345.1" y1="263.84" x2="347.5" y2="263.84" stroke="#8a8a8a" stroke-width="1.0"/>
<text font-size="5.2" text-anchor="end" font-weight="normal" fill="#222" stroke="#222" stroke-width="0.08" transform="translate(343.1 266.49) scale(1 1.15)">800</text>
<line x1="345.1" y1="236.1" x2="347.5" y2="236.1" stroke="#8a8a8a" stroke-width="1.0"/>
<text font-size="5.2" text-anchor="end" font-weight="normal" fill="#222" stroke="#222" stroke-width="0.08" transform="translate(343.1 238.75) scale(1 1.15)">1000</text>
<line x1="347.5" y1="374.8" x2="539.5" y2="374.8" stroke="#8a8a8a" stroke-width="1.0"/>
<line x1="347.5" y1="374.8" x2="347.5" y2="377.1" stroke="#8a8a8a" stroke-width="1.0"/>
<text font-size="5.2" text-anchor="middle" font-weight="normal" fill="#222" stroke="#222" stroke-width="0.08" transform="translate(347.5 384.7) scale(1 1.08)">0</text>
<line x1="363.5" y1="374.8" x2="363.5" y2="377.1" stroke="#8a8a8a" stroke-width="1.0"/>
<text font-size="5.2" text-anchor="middle" font-weight="normal" fill="#222" stroke="#222" stroke-width="0.08" transform="translate(363.5 384.7) scale(1 1.08)">20</text>
<line x1="379.5" y1="374.8" x2="379.5" y2="377.1" stroke="#8a8a8a" stroke-width="1.0"/>
<text font-size="5.2" text-anchor="middle" font-weight="normal" fill="#222" stroke="#222" stroke-width="0.08" transform="translate(379.5 384.7) scale(1 1.08)">40</text>
<line x1="395.5" y1="374.8" x2="395.5" y2="377.1" stroke="#8a8a8a" stroke-width="1.0"/>
<text font-size="5.2" text-anchor="middle" font-weight="normal" fill="#222" stroke="#222" stroke-width="0.08" transform="translate(395.5 384.7) scale(1 1.08)">60</text>
<line x1="411.5" y1="374.8" x2="411.5" y2="377.1" stroke="#8a8a8a" stroke-width="1.0"/>
<text font-size="5.2" text-anchor="middle" font-weight="normal" fill="#222" stroke="#222" stroke-width="0.08" transform="translate(411.5 384.7) scale(1 1.08)">80</text>
<line x1="427.5" y1="374.8" x2="427.5" y2="377.1" stroke="#8a8a8a" stroke-width="1.0"/>
<text font-size="5.2" text-anchor="middle" font-weight="normal" fill="#222" stroke="#222" stroke-width="0.08" transform="translate(427.5 384.7) scale(1 1.08)">100</text>
<line x1="443.5" y1="374.8" x2="443.5" y2="377.1" stroke="#8a8a8a" stroke-width="1.0"/>
<text font-size="5.2" text-anchor="middle" font-weight="normal" fill="#222" stroke="#222" stroke-width="0.08" transform="translate(443.5 384.7) scale(1 1.08)">120</text>
<line x1="459.5" y1="374.8" x2="459.5" y2="377.1" stroke="#8a8a8a" stroke-width="1.0"/>
<text font-size="5.2" text-anchor="middle" font-weight="normal" fill="#222" stroke="#222" stroke-width="0.08" transform="translate(459.5 384.7) scale(1 1.08)">140</text>
<line x1="475.5" y1="374.8" x2="475.5" y2="377.1" stroke="#8a8a8a" stroke-width="1.0"/>
<text font-size="5.2" text-anchor="middle" font-weight="normal" fill="#222" stroke="#222" stroke-width="0.08" transform="translate(475.5 384.7) scale(1 1.08)">160</text>
<line x1="491.5" y1="374.8" x2="491.5" y2="377.1" stroke="#8a8a8a" stroke-width="1.0"/>
<text font-size="5.2" text-anchor="middle" font-weight="normal" fill="#222" stroke="#222" stroke-width="0.08" transform="translate(491.5 384.7) scale(1 1.08)">180</text>
<line x1="507.5" y1="374.8" x2="507.5" y2="377.1" stroke="#8a8a8a" stroke-width="1.0"/>
<text font-size="5.2" text-anchor="middle" font-weight="normal" fill="#222" stroke="#222" stroke-width="0.08" transform="translate(507.5 384.7) scale(1 1.08)">200</text>
<line x1="523.5" y1="374.8" x2="523.5" y2="377.1" stroke="#8a8a8a" stroke-width="1.0"/>
<text font-size="5.2" text-anchor="middle" font-weight="normal" fill="#222" stroke="#222" stroke-width="0.08" transform="translate(523.5 384.7) scale(1 1.08)">220</text>
<line x1="539.5" y1="374.8" x2="539.5" y2="377.1" stroke="#8a8a8a" stroke-width="1.0"/>
<text font-size="5.2" text-anchor="middle" font-weight="normal" fill="#222" stroke="#222" stroke-width="0.08" transform="translate(539.5 384.7) scale(1 1.08)">240</text>
<polyline points="347.5,374.8 349.5,374.52 351.5,374.11 353.5,373.41 355.5,372.16 359.5,370.64 363.5,369.11 367.5,367.45 371.5,366.34 383.5,363.15 395.5,359.54 419.5,355.24 443.5,353.58 491.5,353.02 539.5,352.47" fill="none" stroke="#222" stroke-width="0.75" stroke-linejoin="round"/>
<polyline points="347.5,374.8 349.5,374.38 351.5,373.69 353.5,372.72 355.5,369.67 359.5,356.77 363.5,345.53 367.5,340.82 371.5,337.77 383.5,330.97 395.5,327.64 419.5,322.23 443.5,324.73 491.5,322.51 539.5,321.96" fill="none" stroke="#222" stroke-width="0.75" stroke-linejoin="round"/>
<polyline points="347.5,374.8 349.5,374.38 351.5,371.75 353.5,361.62 355.5,345.53 359.5,316.27 363.5,296.43 367.5,283.81 371.5,275.63 383.5,262.87 395.5,251.22 419.5,248.03 443.5,248.58 491.5,245.81 539.5,243.04" fill="none" stroke="#222" stroke-width="0.75" stroke-linejoin="round"/>
<line x1="349.5" y1="374.38" x2="349.5" y2="374.66" stroke="#333" stroke-width="0.6"/>
<line x1="347.4" y1="374.38" x2="351.6" y2="374.38" stroke="#333" stroke-width="0.6"/>
<line x1="347.4" y1="374.66" x2="351.6" y2="374.66" stroke="#333" stroke-width="0.6"/>
<line x1="351.5" y1="373.97" x2="351.5" y2="374.25" stroke="#333" stroke-width="0.6"/>
<line x1="349.4" y1="373.97" x2="353.6" y2="373.97" stroke="#333" stroke-width="0.6"/>
<line x1="349.4" y1="374.25" x2="353.6" y2="374.25" stroke="#333" stroke-width="0.6"/>
<line x1="353.5" y1="373.14" x2="353.5" y2="373.69" stroke="#333" stroke-width="0.6"/>
<line x1="351.4" y1="373.14" x2="355.6" y2="373.14" stroke="#333" stroke-width="0.6"/>
<line x1="351.4" y1="373.69" x2="355.6" y2="373.69" stroke="#333" stroke-width="0.6"/>
<line x1="355.5" y1="371.75" x2="355.5" y2="372.58" stroke="#333" stroke-width="0.6"/>
<line x1="353.4" y1="371.75" x2="357.6" y2="371.75" stroke="#333" stroke-width="0.6"/>
<line x1="353.4" y1="372.58" x2="357.6" y2="372.58" stroke="#333" stroke-width="0.6"/>
<line x1="359.5" y1="370.08" x2="359.5" y2="371.19" stroke="#333" stroke-width="0.6"/>
<line x1="357.4" y1="370.08" x2="361.6" y2="370.08" stroke="#333" stroke-width="0.6"/>
<line x1="357.4" y1="371.19" x2="361.6" y2="371.19" stroke="#333" stroke-width="0.6"/>
<line x1="363.5" y1="368.42" x2="363.5" y2="369.81" stroke="#333" stroke-width="0.6"/>
<line x1="361.4" y1="368.42" x2="365.6" y2="368.42" stroke="#333" stroke-width="0.6"/>
<line x1="361.4" y1="369.81" x2="365.6" y2="369.81" stroke="#333" stroke-width="0.6"/>
<line x1="367.5" y1="366.76" x2="367.5" y2="368.14" stroke="#333" stroke-width="0.6"/>
<line x1="365.4" y1="366.76" x2="369.6" y2="366.76" stroke="#333" stroke-width="0.6"/>
<line x1="365.4" y1="368.14" x2="369.6" y2="368.14" stroke="#333" stroke-width="0.6"/>
<line x1="371.5" y1="365.65" x2="371.5" y2="367.03" stroke="#333" stroke-width="0.6"/>
<line x1="369.4" y1="365.65" x2="373.6" y2="365.65" stroke="#333" stroke-width="0.6"/>
<line x1="369.4" y1="367.03" x2="373.6" y2="367.03" stroke="#333" stroke-width="0.6"/>
<line x1="383.5" y1="362.32" x2="383.5" y2="363.98" stroke="#333" stroke-width="0.6"/>
<line x1="381.4" y1="362.32" x2="385.6" y2="362.32" stroke="#333" stroke-width="0.6"/>
<line x1="381.4" y1="363.98" x2="385.6" y2="363.98" stroke="#333" stroke-width="0.6"/>
<line x1="395.5" y1="358.71" x2="395.5" y2="360.38" stroke="#333" stroke-width="0.6"/>
<line x1="393.4" y1="358.71" x2="397.6" y2="358.71" stroke="#333" stroke-width="0.6"/>
<line x1="393.4" y1="360.38" x2="397.6" y2="360.38" stroke="#333" stroke-width="0.6"/>
<line x1="419.5" y1="352.75" x2="419.5" y2="357.74" stroke="#333" stroke-width="0.6"/>
<line x1="417.4" y1="352.75" x2="421.6" y2="352.75" stroke="#333" stroke-width="0.6"/>
<line x1="417.4" y1="357.74" x2="421.6" y2="357.74" stroke="#333" stroke-width="0.6"/>
<line x1="443.5" y1="352.47" x2="443.5" y2="354.69" stroke="#333" stroke-width="0.6"/>
<line x1="441.4" y1="352.47" x2="445.6" y2="352.47" stroke="#333" stroke-width="0.6"/>
<line x1="441.4" y1="354.69" x2="445.6" y2="354.69" stroke="#333" stroke-width="0.6"/>
<line x1="491.5" y1="352.33" x2="491.5" y2="353.72" stroke="#333" stroke-width="0.6"/>
<line x1="489.4" y1="352.33" x2="493.6" y2="352.33" stroke="#333" stroke-width="0.6"/>
<line x1="489.4" y1="353.72" x2="493.6" y2="353.72" stroke="#333" stroke-width="0.6"/>
<line x1="539.5" y1="351.78" x2="539.5" y2="353.16" stroke="#333" stroke-width="0.6"/>
<line x1="537.4" y1="351.78" x2="541.6" y2="351.78" stroke="#333" stroke-width="0.6"/>
<line x1="537.4" y1="353.16" x2="541.6" y2="353.16" stroke="#333" stroke-width="0.6"/>
<line x1="349.5" y1="374.11" x2="349.5" y2="374.66" stroke="#333" stroke-width="0.6"/>
<line x1="347.4" y1="374.11" x2="351.6" y2="374.11" stroke="#333" stroke-width="0.6"/>
<line x1="347.4" y1="374.66" x2="351.6" y2="374.66" stroke="#333" stroke-width="0.6"/>
<line x1="351.5" y1="373.27" x2="351.5" y2="374.11" stroke="#333" stroke-width="0.6"/>
<line x1="349.4" y1="373.27" x2="353.6" y2="373.27" stroke="#333" stroke-width="0.6"/>
<line x1="349.4" y1="374.11" x2="353.6" y2="374.11" stroke="#333" stroke-width="0.6"/>
<line x1="353.5" y1="372.03" x2="353.5" y2="373.41" stroke="#333" stroke-width="0.6"/>
<line x1="351.4" y1="372.03" x2="355.6" y2="372.03" stroke="#333" stroke-width="0.6"/>
<line x1="351.4" y1="373.41" x2="355.6" y2="373.41" stroke="#333" stroke-width="0.6"/>
<line x1="355.5" y1="368.56" x2="355.5" y2="370.78" stroke="#333" stroke-width="0.6"/>
<line x1="353.4" y1="368.56" x2="357.6" y2="368.56" stroke="#333" stroke-width="0.6"/>
<line x1="353.4" y1="370.78" x2="357.6" y2="370.78" stroke="#333" stroke-width="0.6"/>
<line x1="359.5" y1="353.3" x2="359.5" y2="360.24" stroke="#333" stroke-width="0.6"/>
<line x1="357.4" y1="353.3" x2="361.6" y2="353.3" stroke="#333" stroke-width="0.6"/>
<line x1="357.4" y1="360.24" x2="361.6" y2="360.24" stroke="#333" stroke-width="0.6"/>
<line x1="363.5" y1="342.07" x2="363.5" y2="349" stroke="#333" stroke-width="0.6"/>
<line x1="361.4" y1="342.07" x2="365.6" y2="342.07" stroke="#333" stroke-width="0.6"/>
<line x1="361.4" y1="349" x2="365.6" y2="349" stroke="#333" stroke-width="0.6"/>
<line x1="367.5" y1="338.74" x2="367.5" y2="342.9" stroke="#333" stroke-width="0.6"/>
<line x1="365.4" y1="338.74" x2="369.6" y2="338.74" stroke="#333" stroke-width="0.6"/>
<line x1="365.4" y1="342.9" x2="369.6" y2="342.9" stroke="#333" stroke-width="0.6"/>
<line x1="371.5" y1="336.38" x2="371.5" y2="339.15" stroke="#333" stroke-width="0.6"/>
<line x1="369.4" y1="336.38" x2="373.6" y2="336.38" stroke="#333" stroke-width="0.6"/>
<line x1="369.4" y1="339.15" x2="373.6" y2="339.15" stroke="#333" stroke-width="0.6"/>
<line x1="383.5" y1="329.58" x2="383.5" y2="332.36" stroke="#333" stroke-width="0.6"/>
<line x1="381.4" y1="329.58" x2="385.6" y2="329.58" stroke="#333" stroke-width="0.6"/>
<line x1="381.4" y1="332.36" x2="385.6" y2="332.36" stroke="#333" stroke-width="0.6"/>
<line x1="395.5" y1="325.98" x2="395.5" y2="329.31" stroke="#333" stroke-width="0.6"/>
<line x1="393.4" y1="325.98" x2="397.6" y2="325.98" stroke="#333" stroke-width="0.6"/>
<line x1="393.4" y1="329.31" x2="397.6" y2="329.31" stroke="#333" stroke-width="0.6"/>
<line x1="419.5" y1="317.24" x2="419.5" y2="327.23" stroke="#333" stroke-width="0.6"/>
<line x1="417.4" y1="317.24" x2="421.6" y2="317.24" stroke="#333" stroke-width="0.6"/>
<line x1="417.4" y1="327.23" x2="421.6" y2="327.23" stroke="#333" stroke-width="0.6"/>
<line x1="443.5" y1="323.9" x2="443.5" y2="325.56" stroke="#333" stroke-width="0.6"/>
<line x1="441.4" y1="323.9" x2="445.6" y2="323.9" stroke="#333" stroke-width="0.6"/>
<line x1="441.4" y1="325.56" x2="445.6" y2="325.56" stroke="#333" stroke-width="0.6"/>
<line x1="491.5" y1="321.68" x2="491.5" y2="323.34" stroke="#333" stroke-width="0.6"/>
<line x1="489.4" y1="321.68" x2="493.6" y2="321.68" stroke="#333" stroke-width="0.6"/>
<line x1="489.4" y1="323.34" x2="493.6" y2="323.34" stroke="#333" stroke-width="0.6"/>
<line x1="539.5" y1="320.85" x2="539.5" y2="323.06" stroke="#333" stroke-width="0.6"/>
<line x1="537.4" y1="320.85" x2="541.6" y2="320.85" stroke="#333" stroke-width="0.6"/>
<line x1="537.4" y1="323.06" x2="541.6" y2="323.06" stroke="#333" stroke-width="0.6"/>
<line x1="349.5" y1="374.11" x2="349.5" y2="374.66" stroke="#333" stroke-width="0.6"/>
<line x1="347.4" y1="374.11" x2="351.6" y2="374.11" stroke="#333" stroke-width="0.6"/>
<line x1="347.4" y1="374.66" x2="351.6" y2="374.66" stroke="#333" stroke-width="0.6"/>
<line x1="351.5" y1="371.06" x2="351.5" y2="372.44" stroke="#333" stroke-width="0.6"/>
<line x1="349.4" y1="371.06" x2="353.6" y2="371.06" stroke="#333" stroke-width="0.6"/>
<line x1="349.4" y1="372.44" x2="353.6" y2="372.44" stroke="#333" stroke-width="0.6"/>
<line x1="353.5" y1="360.24" x2="353.5" y2="363.01" stroke="#333" stroke-width="0.6"/>
<line x1="351.4" y1="360.24" x2="355.6" y2="360.24" stroke="#333" stroke-width="0.6"/>
<line x1="351.4" y1="363.01" x2="355.6" y2="363.01" stroke="#333" stroke-width="0.6"/>
<line x1="355.5" y1="343.45" x2="355.5" y2="347.61" stroke="#333" stroke-width="0.6"/>
<line x1="353.4" y1="343.45" x2="357.6" y2="343.45" stroke="#333" stroke-width="0.6"/>
<line x1="353.4" y1="347.61" x2="357.6" y2="347.61" stroke="#333" stroke-width="0.6"/>
<line x1="359.5" y1="311.41" x2="359.5" y2="321.12" stroke="#333" stroke-width="0.6"/>
<line x1="357.4" y1="311.41" x2="361.6" y2="311.41" stroke="#333" stroke-width="0.6"/>
<line x1="357.4" y1="321.12" x2="361.6" y2="321.12" stroke="#333" stroke-width="0.6"/>
<line x1="363.5" y1="289.78" x2="363.5" y2="303.09" stroke="#333" stroke-width="0.6"/>
<line x1="361.4" y1="289.78" x2="365.6" y2="289.78" stroke="#333" stroke-width="0.6"/>
<line x1="361.4" y1="303.09" x2="365.6" y2="303.09" stroke="#333" stroke-width="0.6"/>
<line x1="367.5" y1="279.24" x2="367.5" y2="288.39" stroke="#333" stroke-width="0.6"/>
<line x1="365.4" y1="279.24" x2="369.6" y2="279.24" stroke="#333" stroke-width="0.6"/>
<line x1="365.4" y1="288.39" x2="369.6" y2="288.39" stroke="#333" stroke-width="0.6"/>
<line x1="371.5" y1="272.02" x2="371.5" y2="279.24" stroke="#333" stroke-width="0.6"/>
<line x1="369.4" y1="272.02" x2="373.6" y2="272.02" stroke="#333" stroke-width="0.6"/>
<line x1="369.4" y1="279.24" x2="373.6" y2="279.24" stroke="#333" stroke-width="0.6"/>
<line x1="383.5" y1="258.01" x2="383.5" y2="267.72" stroke="#333" stroke-width="0.6"/>
<line x1="381.4" y1="258.01" x2="385.6" y2="258.01" stroke="#333" stroke-width="0.6"/>
<line x1="381.4" y1="267.72" x2="385.6" y2="267.72" stroke="#333" stroke-width="0.6"/>
<line x1="395.5" y1="240.4" x2="395.5" y2="262.04" stroke="#333" stroke-width="0.6"/>
<line x1="393.4" y1="240.4" x2="397.6" y2="240.4" stroke="#333" stroke-width="0.6"/>
<line x1="393.4" y1="262.04" x2="397.6" y2="262.04" stroke="#333" stroke-width="0.6"/>
<line x1="419.5" y1="245.12" x2="419.5" y2="250.94" stroke="#333" stroke-width="0.6"/>
<line x1="417.4" y1="245.12" x2="421.6" y2="245.12" stroke="#333" stroke-width="0.6"/>
<line x1="417.4" y1="250.94" x2="421.6" y2="250.94" stroke="#333" stroke-width="0.6"/>
<line x1="443.5" y1="247.47" x2="443.5" y2="249.69" stroke="#333" stroke-width="0.6"/>
<line x1="441.4" y1="247.47" x2="445.6" y2="247.47" stroke="#333" stroke-width="0.6"/>
<line x1="441.4" y1="249.69" x2="445.6" y2="249.69" stroke="#333" stroke-width="0.6"/>
<line x1="491.5" y1="244.7" x2="491.5" y2="246.92" stroke="#333" stroke-width="0.6"/>
<line x1="489.4" y1="244.7" x2="493.6" y2="244.7" stroke="#333" stroke-width="0.6"/>
<line x1="489.4" y1="246.92" x2="493.6" y2="246.92" stroke="#333" stroke-width="0.6"/>
<line x1="539.5" y1="241.23" x2="539.5" y2="244.84" stroke="#333" stroke-width="0.6"/>
<line x1="537.4" y1="241.23" x2="541.6" y2="241.23" stroke="#333" stroke-width="0.6"/>
<line x1="537.4" y1="244.84" x2="541.6" y2="244.84" stroke="#333" stroke-width="0.6"/>
<circle cx="347.5" cy="374.8" r="1.55" fill="#fff" stroke="#111" stroke-width="0.55"/>
<circle cx="349.5" cy="374.52" r="1.55" fill="#fff" stroke="#111" stroke-width="0.55"/>
<circle cx="351.5" cy="374.11" r="1.55" fill="#fff" stroke="#111" stroke-width="0.55"/>
<circle cx="353.5" cy="373.41" r="1.55" fill="#fff" stroke="#111" stroke-width="0.55"/>
<circle cx="355.5" cy="372.16" r="1.55" fill="#fff" stroke="#111" stroke-width="0.55"/>
<circle cx="359.5" cy="370.64" r="1.55" fill="#fff" stroke="#111" stroke-width="0.55"/>
<circle cx="363.5" cy="369.11" r="1.55" fill="#fff" stroke="#111" stroke-width="0.55"/>
<circle cx="367.5" cy="367.45" r="1.55" fill="#fff" stroke="#111" stroke-width="0.55"/>
<circle cx="371.5" cy="366.34" r="1.55" fill="#fff" stroke="#111" stroke-width="0.55"/>
<circle cx="383.5" cy="363.15" r="1.55" fill="#fff" stroke="#111" stroke-width="0.55"/>
<circle cx="395.5" cy="359.54" r="1.55" fill="#fff" stroke="#111" stroke-width="0.55"/>
<circle cx="419.5" cy="355.24" r="1.55" fill="#fff" stroke="#111" stroke-width="0.55"/>
<circle cx="443.5" cy="353.58" r="1.55" fill="#fff" stroke="#111" stroke-width="0.55"/>
<circle cx="491.5" cy="353.02" r="1.55" fill="#fff" stroke="#111" stroke-width="0.55"/>
<circle cx="539.5" cy="352.47" r="1.55" fill="#fff" stroke="#111" stroke-width="0.55"/>
<circle cx="347.5" cy="374.8" r="1.55" fill="#000" stroke="#111" stroke-width="0.55"/>
<circle cx="349.5" cy="374.38" r="1.55" fill="#000" stroke="#111" stroke-width="0.55"/>
<circle cx="351.5" cy="373.69" r="1.55" fill="#000" stroke="#111" stroke-width="0.55"/>
<circle cx="353.5" cy="372.72" r="1.55" fill="#000" stroke="#111" stroke-width="0.55"/>
<circle cx="355.5" cy="369.67" r="1.55" fill="#000" stroke="#111" stroke-width="0.55"/>
<circle cx="359.5" cy="356.77" r="1.55" fill="#000" stroke="#111" stroke-width="0.55"/>
<circle cx="363.5" cy="345.53" r="1.55" fill="#000" stroke="#111" stroke-width="0.55"/>
<circle cx="367.5" cy="340.82" r="1.55" fill="#000" stroke="#111" stroke-width="0.55"/>
<circle cx="371.5" cy="337.77" r="1.55" fill="#000" stroke="#111" stroke-width="0.55"/>
<circle cx="383.5" cy="330.97" r="1.55" fill="#000" stroke="#111" stroke-width="0.55"/>
<circle cx="395.5" cy="327.64" r="1.55" fill="#000" stroke="#111" stroke-width="0.55"/>
<circle cx="419.5" cy="322.23" r="1.55" fill="#000" stroke="#111" stroke-width="0.55"/>
<circle cx="443.5" cy="324.73" r="1.55" fill="#000" stroke="#111" stroke-width="0.55"/>
<circle cx="491.5" cy="322.51" r="1.55" fill="#000" stroke="#111" stroke-width="0.55"/>
<circle cx="539.5" cy="321.96" r="1.55" fill="#000" stroke="#111" stroke-width="0.55"/>
<circle cx="347.5" cy="374.8" r="1.55" fill="#ff0000" stroke="#3a0000" stroke-width="0.41250000000000003"/>
<circle cx="349.5" cy="374.38" r="1.55" fill="#ff0000" stroke="#3a0000" stroke-width="0.41250000000000003"/>
<circle cx="351.5" cy="371.75" r="1.55" fill="#ff0000" stroke="#3a0000" stroke-width="0.41250000000000003"/>
<circle cx="353.5" cy="361.62" r="1.55" fill="#ff0000" stroke="#3a0000" stroke-width="0.41250000000000003"/>
<circle cx="355.5" cy="345.53" r="1.55" fill="#ff0000" stroke="#3a0000" stroke-width="0.41250000000000003"/>
<circle cx="359.5" cy="316.27" r="1.55" fill="#ff0000" stroke="#3a0000" stroke-width="0.41250000000000003"/>
<circle cx="363.5" cy="296.43" r="1.55" fill="#ff0000" stroke="#3a0000" stroke-width="0.41250000000000003"/>
<circle cx="367.5" cy="283.81" r="1.55" fill="#ff0000" stroke="#3a0000" stroke-width="0.41250000000000003"/>
<circle cx="371.5" cy="275.63" r="1.55" fill="#ff0000" stroke="#3a0000" stroke-width="0.41250000000000003"/>
<circle cx="383.5" cy="262.87" r="1.55" fill="#ff0000" stroke="#3a0000" stroke-width="0.41250000000000003"/>
<circle cx="395.5" cy="251.22" r="1.55" fill="#ff0000" stroke="#3a0000" stroke-width="0.41250000000000003"/>
<circle cx="419.5" cy="248.03" r="1.55" fill="#ff0000" stroke="#3a0000" stroke-width="0.41250000000000003"/>
<circle cx="443.5" cy="248.58" r="1.55" fill="#ff0000" stroke="#3a0000" stroke-width="0.41250000000000003"/>
<circle cx="491.5" cy="245.81" r="1.55" fill="#ff0000" stroke="#3a0000" stroke-width="0.41250000000000003"/>
<circle cx="539.5" cy="243.04" r="1.55" fill="#ff0000" stroke="#3a0000" stroke-width="0.41250000000000003"/>
<text font-size="6.2" text-anchor="middle" font-weight="normal" fill="#222" stroke="#222" stroke-width="0.22" transform="translate(325.6 300.5) rotate(-90) scale(1 1.18)">concentration (µg/mL)</text>
<text font-size="6.1" text-anchor="middle" font-weight="normal" fill="#222" stroke="#222" stroke-width="0.21" transform="translate(443.4 396.9) scale(1 1.03)">time (min)</text>
<line x1="388.9" y1="414" x2="401.6" y2="414" stroke="#222" stroke-width="0.7"/>
<circle cx="395.25" cy="414" r="1.6" fill="#fff" stroke="#111" stroke-width="0.55"/>
<text font-size="5.2" text-anchor="start" font-weight="normal" fill="#222" stroke="#222" stroke-width="0.18" transform="translate(404.2 416.21) scale(1 1.18)">75 mg</text>
<line x1="424.5" y1="414" x2="436.5" y2="414" stroke="#222" stroke-width="0.7"/>
<circle cx="430.5" cy="414" r="1.6" fill="#000" stroke="#111" stroke-width="0.55"/>
<text font-size="5.2" text-anchor="start" font-weight="normal" fill="#222" stroke="#222" stroke-width="0.18" transform="translate(439 416.21) scale(1 1.18)">200 mg</text>
<line x1="461.4" y1="414" x2="474.1" y2="414" stroke="#222" stroke-width="0.7"/>
<circle cx="467.75" cy="414" r="1.6" fill="#ff0000" stroke="#3a0000" stroke-width="0.41250000000000003"/>
<text font-size="5.2" text-anchor="start" font-weight="normal" fill="#222" stroke="#222" stroke-width="0.18" transform="translate(476.7 416.21) scale(1 1.18)">500 mg</text>
</svg>
</body></html>
